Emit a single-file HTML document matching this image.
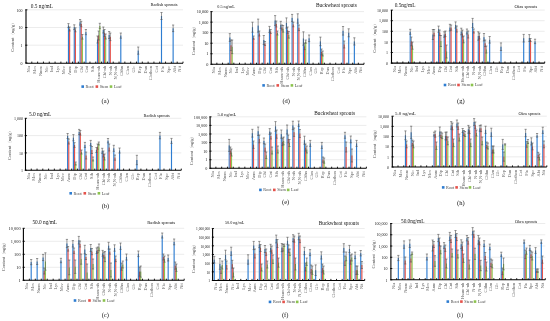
<!DOCTYPE html>
<html><head><meta charset="utf-8"><title>Content of compounds in sprouts</title>
<style>
html,body{margin:0;padding:0;background:#fff;}
body{width:550px;height:321px;overflow:hidden;}
svg{display:block;}
text{font-family:"Liberation Serif","Noto Serif CJK SC",serif;fill:#1a1a1a;}
.g{stroke:#d9d9d9;stroke-width:0.5;}
.e{stroke:#555;stroke-width:0.6;fill:none;}
.ax{stroke:#000;stroke-width:1.1;fill:none;}
.tk{stroke:#000;stroke-width:0.9;fill:none;}
.yt{font-size:4.0px;text-anchor:end;fill:#222;}
.xl{font-size:4.4px;text-anchor:end;fill:#666;}
.yl{font-size:4.5px;text-anchor:middle;fill:#555;}
.cn{fill:#111;}
.sp{fill:#111;}
.lg{font-size:4.2px;fill:#444;}
.lt{font-size:6.5px;text-anchor:middle;fill:#111;}
</style></head>
<body>
<svg width="550" height="321" viewBox="0 0 550 321">
<rect width="550" height="321" fill="#fff"/>
<line x1="26" y1="45.2" x2="183" y2="45.2" class="g"/>
<line x1="26" y1="27.5" x2="183" y2="27.5" class="g"/>
<line x1="26" y1="9.8" x2="183" y2="9.8" class="g"/>
<rect x="67.89" y="25.6" width="1.15" height="37.6" fill="#2E7DD1"/>
<rect x="69.04" y="29" width="1.15" height="34.2" fill="#E5524B"/>
<rect x="73.7" y="27.2" width="1.15" height="36" fill="#2E7DD1"/>
<rect x="74.85" y="29.8" width="1.15" height="33.4" fill="#E5524B"/>
<rect x="79.52" y="22.3" width="1.15" height="40.9" fill="#2E7DD1"/>
<rect x="80.67" y="24" width="1.15" height="39.2" fill="#E5524B"/>
<rect x="81.82" y="36.8" width="1.15" height="26.4" fill="#8CC34E"/>
<rect x="85.33" y="32.1" width="1.15" height="31.1" fill="#2E7DD1"/>
<rect x="96.96" y="39.5" width="1.15" height="23.7" fill="#2E7DD1"/>
<rect x="98.11" y="35.5" width="1.15" height="27.7" fill="#E5524B"/>
<rect x="99.26" y="26" width="1.15" height="37.2" fill="#8CC34E"/>
<rect x="102.77" y="30" width="1.15" height="33.2" fill="#2E7DD1"/>
<rect x="103.92" y="33" width="1.15" height="30.2" fill="#E5524B"/>
<rect x="105.08" y="36.5" width="1.15" height="26.7" fill="#8CC34E"/>
<rect x="108.59" y="35" width="1.15" height="28.2" fill="#2E7DD1"/>
<rect x="109.74" y="36.8" width="1.15" height="26.4" fill="#E5524B"/>
<rect x="120.22" y="35.6" width="1.15" height="27.6" fill="#2E7DD1"/>
<rect x="137.66" y="50.6" width="1.15" height="12.6" fill="#2E7DD1"/>
<rect x="160.92" y="16" width="1.15" height="47.2" fill="#2E7DD1"/>
<rect x="172.55" y="28.3" width="1.15" height="34.9" fill="#2E7DD1"/>
<path d="M68.46 23.6V27.6M67.36 23.6h2.2M67.36 27.6h2.2M69.61 27V31M68.51 27h2.2M68.51 31h2.2M74.28 24.8V29.6M73.18 24.8h2.2M73.18 29.6h2.2M75.43 27.8V31.8M74.33 27.8h2.2M74.33 31.8h2.2M80.09 19.5V25.1M78.99 19.5h2.2M78.99 25.1h2.2M81.24 21.3V26.7M80.14 21.3h2.2M80.14 26.7h2.2M82.39 34.5V39.1M81.29 34.5h2.2M81.29 39.1h2.2M85.91 29.5V34.7M84.81 29.5h2.2M84.81 34.7h2.2M97.54 36V43M96.44 36h2.2M96.44 43h2.2M98.69 31V40M97.59 31h2.2M97.59 40h2.2M99.84 23.3V28.7M98.74 23.3h2.2M98.74 28.7h2.2M103.35 27V33M102.25 27h2.2M102.25 33h2.2M104.5 29.5V36.5M103.4 29.5h2.2M103.4 36.5h2.2M105.65 34V39M104.55 34h2.2M104.55 39h2.2M109.16 31.5V38.5M108.06 31.5h2.2M108.06 38.5h2.2M110.31 33V40.6M109.21 33h2.2M109.21 40.6h2.2M120.79 33V38.2M119.69 33h2.2M119.69 38.2h2.2M138.24 47V54.2M137.14 47h2.2M137.14 54.2h2.2M161.5 12.5V19.5M160.4 12.5h2.2M160.4 19.5h2.2M173.13 25V31.6M172.03 25h2.2M172.03 31.6h2.2" class="e"/>
<path d="M26 9.8V63.2H183" class="ax"/>
<path d="M25.2 62.9h2.2M25.2 45.2h2.2M25.2 27.5h2.2M25.2 9.8h2.2M31.81 63.2v-1.6M37.63 63.2v-1.6M43.44 63.2v-1.6M49.26 63.2v-1.6M55.07 63.2v-1.6M60.89 63.2v-1.6M66.7 63.2v-1.6M72.52 63.2v-1.6M78.33 63.2v-1.6M84.15 63.2v-1.6M89.96 63.2v-1.6M95.78 63.2v-1.6M101.59 63.2v-1.6M107.41 63.2v-1.6M113.22 63.2v-1.6M119.04 63.2v-1.6M124.85 63.2v-1.6M130.67 63.2v-1.6M136.48 63.2v-1.6M142.3 63.2v-1.6M148.11 63.2v-1.6M153.93 63.2v-1.6M159.74 63.2v-1.6M165.56 63.2v-1.6M171.37 63.2v-1.6M177.19 63.2v-1.6M183 63.2v-1.6" class="tk"/>
<text x="22.6" y="64.6" class="yt" style="font-size:4.0px">0</text>
<text x="22.6" y="46.9" class="yt" style="font-size:4.0px">1</text>
<text x="22.6" y="29.2" class="yt" style="font-size:4.0px">10</text>
<text x="22.6" y="11.5" class="yt" style="font-size:4.0px">100</text>
<text transform="translate(30.21 66.1) rotate(-90)" class="xl">Nia</text>
<text transform="translate(36.02 66.1) rotate(-90)" class="xl">Mes</text>
<text transform="translate(41.84 66.1) rotate(-90)" class="xl">Nmm</text>
<text transform="translate(47.65 66.1) rotate(-90)" class="xl">Nic</text>
<text transform="translate(53.47 66.1) rotate(-90)" class="xl">Ind</text>
<text transform="translate(59.28 66.1) rotate(-90)" class="xl">Lys</text>
<text transform="translate(65.1 66.1) rotate(-90)" class="xl">Mev</text>
<text transform="translate(70.91 66.1) rotate(-90)" class="xl">Anm</text>
<text transform="translate(76.73 66.1) rotate(-90)" class="xl">Dip</text>
<text transform="translate(82.54 66.1) rotate(-90)" class="xl">Chl</text>
<text transform="translate(88.36 66.1) rotate(-90)" class="xl">Cnt</text>
<text transform="translate(94.17 66.1) rotate(-90)" class="xl">Sih</text>
<text transform="translate(99.99 66.1) rotate(-90)" class="xl">Hxam-nh</text>
<text transform="translate(105.8 66.1) rotate(-90)" class="xl">Chl-nh</text>
<text transform="translate(111.61 66.1) rotate(-90)" class="xl">N-nh</text>
<text transform="translate(117.43 66.1) rotate(-90)" class="xl">N,N-nh</text>
<text transform="translate(123.24 66.1) rotate(-90)" class="xl">Clthn</text>
<text transform="translate(129.06 66.1) rotate(-90)" class="xl">Clzn</text>
<text transform="translate(134.87 66.1) rotate(-90)" class="xl">Glc</text>
<text transform="translate(140.69 66.1) rotate(-90)" class="xl">Rep</text>
<text transform="translate(146.5 66.1) rotate(-90)" class="xl">Dan</text>
<text transform="translate(152.32 66.1) rotate(-90)" class="xl">Clothon</text>
<text transform="translate(158.13 66.1) rotate(-90)" class="xl">Cot</text>
<text transform="translate(163.95 66.1) rotate(-90)" class="xl">Flu</text>
<text transform="translate(169.76 66.1) rotate(-90)" class="xl">Spe</text>
<text transform="translate(175.58 66.1) rotate(-90)" class="xl">Abt</text>
<text transform="translate(181.39 66.1) rotate(-90)" class="xl">Nit</text>
<text transform="translate(13.5 36.2) rotate(-90)" class="yl">Content（ng/g）</text>
<text x="30.8" y="7.85" class="cn" style="font-size:5.3px">0.5 ng/mL</text>
<text x="150.5" y="6.31" class="sp" style="font-size:4.6px" textLength="27.1" lengthAdjust="spacingAndGlyphs">Radish sprouts</text>
<rect x="81.4" y="85.3" width="2.6" height="2.6" fill="#2E7DD1"/>
<text x="85.6" y="88" class="lg">Root</text>
<rect x="95.55" y="85.3" width="2.6" height="2.6" fill="#E5524B"/>
<text x="99.75" y="88" class="lg">Stem</text>
<rect x="109.7" y="85.3" width="2.6" height="2.6" fill="#8CC34E"/>
<text x="113.9" y="88" class="lg">Leaf</text>
<text x="105.2" y="102.6" class="lt">(a)</text>
<line x1="25.5" y1="152.9" x2="181.3" y2="152.9" class="g"/>
<line x1="25.5" y1="135.6" x2="181.3" y2="135.6" class="g"/>
<line x1="25.5" y1="118.3" x2="181.3" y2="118.3" class="g"/>
<rect x="67.05" y="136" width="1.15" height="34.2" fill="#2E7DD1"/>
<rect x="68.2" y="141.5" width="1.15" height="28.7" fill="#E5524B"/>
<rect x="72.82" y="137.7" width="1.15" height="32.5" fill="#2E7DD1"/>
<rect x="73.97" y="145" width="1.15" height="25.2" fill="#E5524B"/>
<rect x="75.12" y="163.5" width="1.15" height="6.7" fill="#8CC34E"/>
<rect x="78.59" y="132" width="1.15" height="38.2" fill="#2E7DD1"/>
<rect x="79.74" y="132.8" width="1.15" height="37.4" fill="#E5524B"/>
<rect x="80.89" y="152" width="1.15" height="18.2" fill="#8CC34E"/>
<rect x="84.36" y="144.9" width="1.15" height="25.3" fill="#2E7DD1"/>
<rect x="85.51" y="155.5" width="1.15" height="14.7" fill="#E5524B"/>
<rect x="90.13" y="143" width="1.15" height="27.2" fill="#2E7DD1"/>
<rect x="91.28" y="150" width="1.15" height="20.2" fill="#E5524B"/>
<rect x="92.43" y="159" width="1.15" height="11.2" fill="#8CC34E"/>
<rect x="95.9" y="150" width="1.15" height="20.2" fill="#2E7DD1"/>
<rect x="97.05" y="146.6" width="1.15" height="23.6" fill="#E5524B"/>
<rect x="98.2" y="143.5" width="1.15" height="26.7" fill="#8CC34E"/>
<rect x="101.67" y="150.8" width="1.15" height="19.4" fill="#2E7DD1"/>
<rect x="102.83" y="154" width="1.15" height="16.2" fill="#E5524B"/>
<rect x="103.98" y="157" width="1.15" height="13.2" fill="#8CC34E"/>
<rect x="107.45" y="140.7" width="1.15" height="29.5" fill="#2E7DD1"/>
<rect x="108.6" y="147.5" width="1.15" height="22.7" fill="#E5524B"/>
<rect x="113.22" y="148.3" width="1.15" height="21.9" fill="#2E7DD1"/>
<rect x="114.37" y="157.6" width="1.15" height="12.6" fill="#E5524B"/>
<rect x="118.99" y="150.5" width="1.15" height="19.7" fill="#2E7DD1"/>
<rect x="136.3" y="160" width="1.15" height="10.2" fill="#2E7DD1"/>
<rect x="159.38" y="135.6" width="1.15" height="34.6" fill="#2E7DD1"/>
<rect x="170.92" y="140.9" width="1.15" height="29.3" fill="#2E7DD1"/>
<path d="M67.63 133.5V138.5M66.53 133.5h2.2M66.53 138.5h2.2M68.78 139V144M67.68 139h2.2M67.68 144h2.2M73.4 134.6V140.8M72.3 134.6h2.2M72.3 140.8h2.2M74.55 142.6V147.4M73.45 142.6h2.2M73.45 147.4h2.2M75.7 162V165M74.6 162h2.2M74.6 165h2.2M79.17 129.4V134.6M78.07 129.4h2.2M78.07 134.6h2.2M80.32 130.5V135.1M79.22 130.5h2.2M79.22 135.1h2.2M81.47 150V154M80.37 150h2.2M80.37 154h2.2M84.94 142.4V147.4M83.84 142.4h2.2M83.84 147.4h2.2M86.09 152V159M84.99 152h2.2M84.99 159h2.2M90.71 140.4V145.6M89.61 140.4h2.2M89.61 145.6h2.2M91.86 146.5V153.5M90.76 146.5h2.2M90.76 153.5h2.2M93.01 157V161M91.91 157h2.2M91.91 161h2.2M96.48 147.5V152.5M95.38 147.5h2.2M95.38 152.5h2.2M97.63 144V149.2M96.53 144h2.2M96.53 149.2h2.2M98.78 142V145M97.68 142h2.2M97.68 145h2.2M102.25 148.3V153.3M101.15 148.3h2.2M101.15 153.3h2.2M103.4 151V157M102.3 151h2.2M102.3 157h2.2M104.55 154V160M103.45 154h2.2M103.45 160h2.2M108.02 138.5V142.9M106.92 138.5h2.2M106.92 142.9h2.2M109.17 144V151M108.07 144h2.2M108.07 151h2.2M113.79 145.3V151.3M112.69 145.3h2.2M112.69 151.3h2.2M114.94 155V160.2M113.84 155h2.2M113.84 160.2h2.2M119.56 148V153M118.46 148h2.2M118.46 153h2.2M136.87 155.3V164.7M135.77 155.3h2.2M135.77 164.7h2.2M159.95 132.4V138.8M158.85 132.4h2.2M158.85 138.8h2.2M171.49 138.4V143.4M170.39 138.4h2.2M170.39 143.4h2.2" class="e"/>
<path d="M25.5 118.3V170.2H181.3" class="ax"/>
<path d="M24.7 170.2h2.2M24.7 152.9h2.2M24.7 135.6h2.2M24.7 118.3h2.2M31.27 170.2v-1.6M37.04 170.2v-1.6M42.81 170.2v-1.6M48.58 170.2v-1.6M54.35 170.2v-1.6M60.12 170.2v-1.6M65.89 170.2v-1.6M71.66 170.2v-1.6M77.43 170.2v-1.6M83.2 170.2v-1.6M88.97 170.2v-1.6M94.74 170.2v-1.6M100.51 170.2v-1.6M106.29 170.2v-1.6M112.06 170.2v-1.6M117.83 170.2v-1.6M123.6 170.2v-1.6M129.37 170.2v-1.6M135.14 170.2v-1.6M140.91 170.2v-1.6M146.68 170.2v-1.6M152.45 170.2v-1.6M158.22 170.2v-1.6M163.99 170.2v-1.6M169.76 170.2v-1.6M175.53 170.2v-1.6M181.3 170.2v-1.6" class="tk"/>
<text x="23" y="171.9" class="yt" style="font-size:4.0px">1</text>
<text x="23" y="154.6" class="yt" style="font-size:4.0px">10</text>
<text x="23" y="137.3" class="yt" style="font-size:4.0px">100</text>
<text x="23" y="120" class="yt" style="font-size:4.0px">1,000</text>
<text transform="translate(29.69 173.1) rotate(-90)" class="xl">Nia</text>
<text transform="translate(35.46 173.1) rotate(-90)" class="xl">Mes</text>
<text transform="translate(41.23 173.1) rotate(-90)" class="xl">Nmm</text>
<text transform="translate(47 173.1) rotate(-90)" class="xl">Nic</text>
<text transform="translate(52.77 173.1) rotate(-90)" class="xl">Ind</text>
<text transform="translate(58.54 173.1) rotate(-90)" class="xl">Lys</text>
<text transform="translate(64.31 173.1) rotate(-90)" class="xl">Mev</text>
<text transform="translate(70.08 173.1) rotate(-90)" class="xl">Anm</text>
<text transform="translate(75.85 173.1) rotate(-90)" class="xl">Dip</text>
<text transform="translate(81.62 173.1) rotate(-90)" class="xl">Chl</text>
<text transform="translate(87.39 173.1) rotate(-90)" class="xl">Cnt</text>
<text transform="translate(93.16 173.1) rotate(-90)" class="xl">Sih</text>
<text transform="translate(98.93 173.1) rotate(-90)" class="xl">Hxam-nh</text>
<text transform="translate(104.7 173.1) rotate(-90)" class="xl">Chl-nh</text>
<text transform="translate(110.47 173.1) rotate(-90)" class="xl">N-nh</text>
<text transform="translate(116.24 173.1) rotate(-90)" class="xl">N,N-nh</text>
<text transform="translate(122.01 173.1) rotate(-90)" class="xl">Clthn</text>
<text transform="translate(127.78 173.1) rotate(-90)" class="xl">Clzn</text>
<text transform="translate(133.55 173.1) rotate(-90)" class="xl">Glc</text>
<text transform="translate(139.32 173.1) rotate(-90)" class="xl">Rep</text>
<text transform="translate(145.09 173.1) rotate(-90)" class="xl">Dan</text>
<text transform="translate(150.86 173.1) rotate(-90)" class="xl">Clothon</text>
<text transform="translate(156.63 173.1) rotate(-90)" class="xl">Cot</text>
<text transform="translate(162.4 173.1) rotate(-90)" class="xl">Flu</text>
<text transform="translate(168.17 173.1) rotate(-90)" class="xl">Spe</text>
<text transform="translate(173.94 173.1) rotate(-90)" class="xl">Abt</text>
<text transform="translate(179.71 173.1) rotate(-90)" class="xl">Nit</text>
<text transform="translate(10.5 144.3) rotate(-90)" class="yl">Content（ng/g）</text>
<text x="28.9" y="115.69" class="cn" style="font-size:5.4px">5.0 ng/mL</text>
<text x="143.6" y="117.11" class="sp" style="font-size:4.6px" textLength="26.1" lengthAdjust="spacingAndGlyphs">Radish sprouts</text>
<rect x="69.4" y="192" width="2.6" height="2.6" fill="#2E7DD1"/>
<text x="73.6" y="194.7" class="lg">Root</text>
<rect x="83.5" y="192" width="2.6" height="2.6" fill="#E5524B"/>
<text x="87.7" y="194.7" class="lg">Stem</text>
<rect x="97.6" y="192" width="2.6" height="2.6" fill="#8CC34E"/>
<text x="101.8" y="194.7" class="lg">Leaf</text>
<text x="105.5" y="207.6" class="lt">(b)</text>
<line x1="23.4" y1="267.3" x2="184.2" y2="267.3" class="g"/>
<line x1="23.4" y1="254.3" x2="184.2" y2="254.3" class="g"/>
<line x1="23.4" y1="241.3" x2="184.2" y2="241.3" class="g"/>
<line x1="23.4" y1="228.3" x2="184.2" y2="228.3" class="g"/>
<rect x="30.61" y="262.1" width="1.15" height="18.2" fill="#2E7DD1"/>
<rect x="36.56" y="261.5" width="1.15" height="18.8" fill="#2E7DD1"/>
<rect x="42.52" y="257.5" width="1.15" height="22.8" fill="#2E7DD1"/>
<rect x="43.67" y="271" width="1.15" height="9.3" fill="#E5524B"/>
<rect x="44.82" y="261.5" width="1.15" height="18.8" fill="#8CC34E"/>
<rect x="60.39" y="260.5" width="1.15" height="19.8" fill="#2E7DD1"/>
<rect x="66.34" y="243.5" width="1.15" height="36.8" fill="#2E7DD1"/>
<rect x="67.49" y="248.8" width="1.15" height="31.5" fill="#E5524B"/>
<rect x="68.64" y="267.4" width="1.15" height="12.9" fill="#8CC34E"/>
<rect x="72.3" y="243.8" width="1.15" height="36.5" fill="#2E7DD1"/>
<rect x="73.45" y="250.7" width="1.15" height="29.6" fill="#E5524B"/>
<rect x="74.6" y="266.7" width="1.15" height="13.6" fill="#8CC34E"/>
<rect x="78.25" y="240.2" width="1.15" height="40.1" fill="#2E7DD1"/>
<rect x="79.4" y="244" width="1.15" height="36.3" fill="#E5524B"/>
<rect x="80.55" y="259.1" width="1.15" height="21.2" fill="#8CC34E"/>
<rect x="84.21" y="249.5" width="1.15" height="30.8" fill="#2E7DD1"/>
<rect x="85.36" y="257" width="1.15" height="23.3" fill="#E5524B"/>
<rect x="86.51" y="272.5" width="1.15" height="7.8" fill="#8CC34E"/>
<rect x="90.16" y="248" width="1.15" height="32.3" fill="#2E7DD1"/>
<rect x="91.31" y="251.6" width="1.15" height="28.7" fill="#E5524B"/>
<rect x="92.46" y="264" width="1.15" height="16.3" fill="#8CC34E"/>
<rect x="96.12" y="250.7" width="1.15" height="29.6" fill="#2E7DD1"/>
<rect x="97.27" y="249.9" width="1.15" height="30.4" fill="#E5524B"/>
<rect x="98.42" y="247.4" width="1.15" height="32.9" fill="#8CC34E"/>
<rect x="102.07" y="253.3" width="1.15" height="27" fill="#2E7DD1"/>
<rect x="103.22" y="255" width="1.15" height="25.3" fill="#E5524B"/>
<rect x="104.37" y="256.6" width="1.15" height="23.7" fill="#8CC34E"/>
<rect x="108.03" y="245.7" width="1.15" height="34.6" fill="#2E7DD1"/>
<rect x="109.18" y="251.6" width="1.15" height="28.7" fill="#E5524B"/>
<rect x="110.33" y="270" width="1.15" height="10.3" fill="#8CC34E"/>
<rect x="113.99" y="248" width="1.15" height="32.3" fill="#2E7DD1"/>
<rect x="115.14" y="258.8" width="1.15" height="21.5" fill="#E5524B"/>
<rect x="119.94" y="246.2" width="1.15" height="34.1" fill="#2E7DD1"/>
<rect x="121.09" y="266.6" width="1.15" height="13.7" fill="#E5524B"/>
<rect x="122.24" y="264.5" width="1.15" height="15.8" fill="#8CC34E"/>
<rect x="125.9" y="257" width="1.15" height="23.3" fill="#2E7DD1"/>
<rect x="137.81" y="253.8" width="1.15" height="26.5" fill="#2E7DD1"/>
<rect x="138.96" y="271.6" width="1.15" height="8.7" fill="#E5524B"/>
<rect x="140.11" y="271.6" width="1.15" height="8.7" fill="#8CC34E"/>
<rect x="161.63" y="235.5" width="1.15" height="44.8" fill="#2E7DD1"/>
<rect x="162.78" y="257" width="1.15" height="23.3" fill="#E5524B"/>
<rect x="163.93" y="259.1" width="1.15" height="21.2" fill="#8CC34E"/>
<rect x="167.59" y="258" width="1.15" height="22.3" fill="#2E7DD1"/>
<rect x="173.54" y="241.9" width="1.15" height="38.4" fill="#2E7DD1"/>
<rect x="174.69" y="265.6" width="1.15" height="14.7" fill="#E5524B"/>
<rect x="175.84" y="267.7" width="1.15" height="12.6" fill="#8CC34E"/>
<path d="M31.18 259.5V264.7M30.08 259.5h2.2M30.08 264.7h2.2M37.14 258.5V264.5M36.04 258.5h2.2M36.04 264.5h2.2M43.09 254.4V260.6M41.99 254.4h2.2M41.99 260.6h2.2M44.24 268V274M43.14 268h2.2M43.14 274h2.2M45.39 252.8V270.2M44.29 252.8h2.2M44.29 270.2h2.2M60.96 258.3V262.7M59.86 258.3h2.2M59.86 262.7h2.2M66.92 239.4V247.6M65.82 239.4h2.2M65.82 247.6h2.2M68.07 246.5V251.1M66.97 246.5h2.2M66.97 251.1h2.2M69.22 260V274.8M68.12 260h2.2M68.12 274.8h2.2M72.87 240.6V247M71.77 240.6h2.2M71.77 247h2.2M74.02 248V253.4M72.92 248h2.2M72.92 253.4h2.2M75.17 260V273.4M74.07 260h2.2M74.07 273.4h2.2M78.83 236.4V244M77.73 236.4h2.2M77.73 244h2.2M79.98 241V247M78.88 241h2.2M78.88 247h2.2M81.13 254V264.2M80.03 254h2.2M80.03 264.2h2.2M84.78 245.3V253.7M83.68 245.3h2.2M83.68 253.7h2.2M85.93 254.5V259.5M84.83 254.5h2.2M84.83 259.5h2.2M87.08 264V280.3M85.98 264h2.2M85.98 280.3h2.2M90.74 244.5V251.5M89.64 244.5h2.2M89.64 251.5h2.2M91.89 248.5V254.7M90.79 248.5h2.2M90.79 254.7h2.2M93.04 259V269M91.94 259h2.2M91.94 269h2.2M96.69 247.9V253.5M95.59 247.9h2.2M95.59 253.5h2.2M97.84 247V252.8M96.74 247h2.2M96.74 252.8h2.2M98.99 244V250.8M97.89 244h2.2M97.89 250.8h2.2M102.65 250.4V256.2M101.55 250.4h2.2M101.55 256.2h2.2M103.8 252V258M102.7 252h2.2M102.7 258h2.2M104.95 251.6V261.6M103.85 251.6h2.2M103.85 261.6h2.2M108.61 242.3V249.1M107.51 242.3h2.2M107.51 249.1h2.2M109.76 249V254.2M108.66 249h2.2M108.66 254.2h2.2M110.91 263V277M109.81 263h2.2M109.81 277h2.2M114.56 244.8V251.2M113.46 244.8h2.2M113.46 251.2h2.2M115.71 256V261.6M114.61 256h2.2M114.61 261.6h2.2M120.52 243V249.4M119.42 243h2.2M119.42 249.4h2.2M121.67 263V270.2M120.57 263h2.2M120.57 270.2h2.2M122.82 261V268M121.72 261h2.2M121.72 268h2.2M126.47 254V260M125.37 254h2.2M125.37 260h2.2M138.38 251V256.6M137.28 251h2.2M137.28 256.6h2.2M139.53 267V276.2M138.43 267h2.2M138.43 276.2h2.2M140.68 266V277.2M139.58 266h2.2M139.58 277.2h2.2M162.21 233V238M161.11 233h2.2M161.11 238h2.2M163.36 254V260M162.26 254h2.2M162.26 260h2.2M164.51 256V262.2M163.41 256h2.2M163.41 262.2h2.2M168.16 255V261M167.06 255h2.2M167.06 261h2.2M174.12 239V244.8M173.02 239h2.2M173.02 244.8h2.2M175.27 262V269.2M174.17 262h2.2M174.17 269.2h2.2M176.42 264V271.4M175.32 264h2.2M175.32 271.4h2.2" class="e"/>
<path d="M23.4 228.3V280.3H184.2" class="ax"/>
<path d="M22.6 280.3h2.2M22.6 267.3h2.2M22.6 254.3h2.2M22.6 241.3h2.2M22.6 228.3h2.2M29.36 280.3v-1.6M35.31 280.3v-1.6M41.27 280.3v-1.6M47.22 280.3v-1.6M53.18 280.3v-1.6M59.13 280.3v-1.6M65.09 280.3v-1.6M71.04 280.3v-1.6M77 280.3v-1.6M82.96 280.3v-1.6M88.91 280.3v-1.6M94.87 280.3v-1.6M100.82 280.3v-1.6M106.78 280.3v-1.6M112.73 280.3v-1.6M118.69 280.3v-1.6M124.64 280.3v-1.6M130.6 280.3v-1.6M136.56 280.3v-1.6M142.51 280.3v-1.6M148.47 280.3v-1.6M154.42 280.3v-1.6M160.38 280.3v-1.6M166.33 280.3v-1.6M172.29 280.3v-1.6M178.24 280.3v-1.6M184.2 280.3v-1.6" class="tk"/>
<text x="20.6" y="282" class="yt" style="font-size:4.4px">1</text>
<text x="20.6" y="269" class="yt" style="font-size:4.4px">10</text>
<text x="20.6" y="256" class="yt" style="font-size:4.4px">100</text>
<text x="20.6" y="243" class="yt" style="font-size:4.4px">1,000</text>
<text x="20.6" y="230" class="yt" style="font-size:4.4px">10,000</text>
<text transform="translate(27.68 283.2) rotate(-90)" class="xl">Nia</text>
<text transform="translate(33.63 283.2) rotate(-90)" class="xl">Mes</text>
<text transform="translate(39.59 283.2) rotate(-90)" class="xl">Nmm</text>
<text transform="translate(45.54 283.2) rotate(-90)" class="xl">Nic</text>
<text transform="translate(51.5 283.2) rotate(-90)" class="xl">Ind</text>
<text transform="translate(57.46 283.2) rotate(-90)" class="xl">Lys</text>
<text transform="translate(63.41 283.2) rotate(-90)" class="xl">Mev</text>
<text transform="translate(69.37 283.2) rotate(-90)" class="xl">Anm</text>
<text transform="translate(75.32 283.2) rotate(-90)" class="xl">Dip</text>
<text transform="translate(81.28 283.2) rotate(-90)" class="xl">Chl</text>
<text transform="translate(87.23 283.2) rotate(-90)" class="xl">Cnt</text>
<text transform="translate(93.19 283.2) rotate(-90)" class="xl">Sih</text>
<text transform="translate(99.14 283.2) rotate(-90)" class="xl">Hxam-nh</text>
<text transform="translate(105.1 283.2) rotate(-90)" class="xl">Chl-nh</text>
<text transform="translate(111.06 283.2) rotate(-90)" class="xl">N-nh</text>
<text transform="translate(117.01 283.2) rotate(-90)" class="xl">N,N-nh</text>
<text transform="translate(122.97 283.2) rotate(-90)" class="xl">Clthn</text>
<text transform="translate(128.92 283.2) rotate(-90)" class="xl">Clzn</text>
<text transform="translate(134.88 283.2) rotate(-90)" class="xl">Glc</text>
<text transform="translate(140.83 283.2) rotate(-90)" class="xl">Rep</text>
<text transform="translate(146.79 283.2) rotate(-90)" class="xl">Dan</text>
<text transform="translate(152.74 283.2) rotate(-90)" class="xl">Clothon</text>
<text transform="translate(158.7 283.2) rotate(-90)" class="xl">Cot</text>
<text transform="translate(164.66 283.2) rotate(-90)" class="xl">Flu</text>
<text transform="translate(170.61 283.2) rotate(-90)" class="xl">Spe</text>
<text transform="translate(176.57 283.2) rotate(-90)" class="xl">Abt</text>
<text transform="translate(182.52 283.2) rotate(-90)" class="xl">Nit</text>
<text transform="translate(4.5 255.5) rotate(-90)" class="yl">Content（ng/g）</text>
<text x="32.4" y="223.85" class="cn" style="font-size:5.3px">50.0 ng/mL</text>
<text x="147.2" y="224.21" class="sp" style="font-size:4.6px" textLength="28" lengthAdjust="spacingAndGlyphs">Radish sprouts</text>
<rect x="73.7" y="299.2" width="2.6" height="2.6" fill="#2E7DD1"/>
<text x="77.9" y="301.9" class="lg">Root</text>
<rect x="88.2" y="299.2" width="2.6" height="2.6" fill="#E5524B"/>
<text x="92.4" y="301.9" class="lg">Stem</text>
<rect x="102.7" y="299.2" width="2.6" height="2.6" fill="#8CC34E"/>
<text x="106.9" y="301.9" class="lg">Leaf</text>
<text x="105.3" y="316.8" class="lt">(c)</text>
<line x1="211.2" y1="53.76" x2="364" y2="53.76" class="g"/>
<line x1="211.2" y1="43.22" x2="364" y2="43.22" class="g"/>
<line x1="211.2" y1="32.68" x2="364" y2="32.68" class="g"/>
<line x1="211.2" y1="22.14" x2="364" y2="22.14" class="g"/>
<line x1="211.2" y1="11.6" x2="364" y2="11.6" class="g"/>
<rect x="229.28" y="37.5" width="1.15" height="26.8" fill="#2E7DD1"/>
<rect x="230.43" y="45.3" width="1.15" height="19" fill="#E5524B"/>
<rect x="231.58" y="46.8" width="1.15" height="17.5" fill="#8CC34E"/>
<rect x="251.92" y="27.2" width="1.15" height="37.1" fill="#2E7DD1"/>
<rect x="253.07" y="37.6" width="1.15" height="26.7" fill="#E5524B"/>
<rect x="257.58" y="25.6" width="1.15" height="38.7" fill="#2E7DD1"/>
<rect x="258.73" y="33.5" width="1.15" height="30.8" fill="#E5524B"/>
<rect x="263.24" y="40" width="1.15" height="24.3" fill="#2E7DD1"/>
<rect x="264.39" y="43.5" width="1.15" height="20.8" fill="#E5524B"/>
<rect x="268.9" y="29.4" width="1.15" height="34.9" fill="#2E7DD1"/>
<rect x="270.05" y="31.5" width="1.15" height="32.8" fill="#E5524B"/>
<rect x="274.56" y="20.5" width="1.15" height="43.8" fill="#2E7DD1"/>
<rect x="275.71" y="24" width="1.15" height="40.3" fill="#E5524B"/>
<rect x="276.86" y="33" width="1.15" height="31.3" fill="#8CC34E"/>
<rect x="280.22" y="24.8" width="1.15" height="39.5" fill="#2E7DD1"/>
<rect x="281.37" y="27.5" width="1.15" height="36.8" fill="#E5524B"/>
<rect x="282.52" y="28.8" width="1.15" height="35.5" fill="#8CC34E"/>
<rect x="285.88" y="23" width="1.15" height="41.3" fill="#2E7DD1"/>
<rect x="287.03" y="30.2" width="1.15" height="34.1" fill="#E5524B"/>
<rect x="288.18" y="34.8" width="1.15" height="29.5" fill="#8CC34E"/>
<rect x="291.53" y="17.9" width="1.15" height="46.4" fill="#2E7DD1"/>
<rect x="292.68" y="24.5" width="1.15" height="39.8" fill="#E5524B"/>
<rect x="297.19" y="18.5" width="1.15" height="45.8" fill="#2E7DD1"/>
<rect x="298.34" y="27.8" width="1.15" height="36.5" fill="#E5524B"/>
<rect x="302.85" y="38.5" width="1.15" height="25.8" fill="#2E7DD1"/>
<rect x="304" y="46.3" width="1.15" height="18" fill="#E5524B"/>
<rect x="305.15" y="41.6" width="1.15" height="22.7" fill="#8CC34E"/>
<rect x="308.51" y="38.3" width="1.15" height="26" fill="#2E7DD1"/>
<rect x="319.83" y="41.4" width="1.15" height="22.9" fill="#2E7DD1"/>
<rect x="320.98" y="52" width="1.15" height="12.3" fill="#E5524B"/>
<rect x="322.13" y="53.5" width="1.15" height="10.8" fill="#8CC34E"/>
<rect x="342.47" y="30.8" width="1.15" height="33.5" fill="#2E7DD1"/>
<rect x="343.62" y="44.5" width="1.15" height="19.8" fill="#E5524B"/>
<rect x="348.13" y="32.8" width="1.15" height="31.5" fill="#2E7DD1"/>
<rect x="353.79" y="41.4" width="1.15" height="22.9" fill="#2E7DD1"/>
<path d="M229.86 33.6V41.4M228.76 33.6h2.2M228.76 41.4h2.2M231.01 40V50.6M229.91 40h2.2M229.91 50.6h2.2M232.16 40V53.6M231.06 40h2.2M231.06 53.6h2.2M252.49 22.2V32.2M251.39 22.2h2.2M251.39 32.2h2.2M253.64 36V39.2M252.54 36h2.2M252.54 39.2h2.2M258.15 19.1V32.1M257.05 19.1h2.2M257.05 32.1h2.2M259.3 31V36M258.2 31h2.2M258.2 36h2.2M263.81 35.5V44.5M262.71 35.5h2.2M262.71 44.5h2.2M264.96 41.5V45.5M263.86 41.5h2.2M263.86 45.5h2.2M269.47 26.4V32.4M268.37 26.4h2.2M268.37 32.4h2.2M270.62 29.5V33.5M269.52 29.5h2.2M269.52 33.5h2.2M275.13 15.6V25.4M274.03 15.6h2.2M274.03 25.4h2.2M276.28 21V27M275.18 21h2.2M275.18 27h2.2M277.43 31V35M276.33 31h2.2M276.33 35h2.2M280.79 21.3V28.3M279.69 21.3h2.2M279.69 28.3h2.2M281.94 25V30M280.84 25h2.2M280.84 30h2.2M283.09 25.5V32.1M281.99 25.5h2.2M281.99 32.1h2.2M286.45 17.9V28.1M285.35 17.9h2.2M285.35 28.1h2.2M287.6 27V33.4M286.5 27h2.2M286.5 33.4h2.2M288.75 31.5V38.1M287.65 31.5h2.2M287.65 38.1h2.2M292.11 14.4V21.4M291.01 14.4h2.2M291.01 21.4h2.2M293.26 22.2V26.8M292.16 22.2h2.2M292.16 26.8h2.2M297.77 13.8V23.2M296.67 13.8h2.2M296.67 23.2h2.2M298.92 25V30.6M297.82 25h2.2M297.82 30.6h2.2M303.43 31.8V45.2M302.33 31.8h2.2M302.33 45.2h2.2M304.58 43V49.6M303.48 43h2.2M303.48 49.6h2.2M305.73 40V43.2M304.63 40h2.2M304.63 43.2h2.2M309.09 35V41.6M307.99 35h2.2M307.99 41.6h2.2M320.41 37.1V45.7M319.31 37.1h2.2M319.31 45.7h2.2M321.56 49V55M320.46 49h2.2M320.46 55h2.2M322.71 51V56M321.61 51h2.2M321.61 56h2.2M343.04 26.5V35.1M341.94 26.5h2.2M341.94 35.1h2.2M344.19 41V48M343.09 41h2.2M343.09 48h2.2M348.7 28.8V36.8M347.6 28.8h2.2M347.6 36.8h2.2M354.36 37.8V45M353.26 37.8h2.2M353.26 45h2.2" class="e"/>
<path d="M211.2 11.6V64.3H364" class="ax"/>
<path d="M210.4 64.3h2.2M210.4 53.76h2.2M210.4 43.22h2.2M210.4 32.68h2.2M210.4 22.14h2.2M210.4 11.6h2.2M216.86 64.3v-1.6M222.52 64.3v-1.6M228.18 64.3v-1.6M233.84 64.3v-1.6M239.5 64.3v-1.6M245.16 64.3v-1.6M250.81 64.3v-1.6M256.47 64.3v-1.6M262.13 64.3v-1.6M267.79 64.3v-1.6M273.45 64.3v-1.6M279.11 64.3v-1.6M284.77 64.3v-1.6M290.43 64.3v-1.6M296.09 64.3v-1.6M301.75 64.3v-1.6M307.41 64.3v-1.6M313.07 64.3v-1.6M318.73 64.3v-1.6M324.39 64.3v-1.6M330.04 64.3v-1.6M335.7 64.3v-1.6M341.36 64.3v-1.6M347.02 64.3v-1.6M352.68 64.3v-1.6M358.34 64.3v-1.6M364 64.3v-1.6" class="tk"/>
<text x="208.5" y="66" class="yt" style="font-size:4.3px">0</text>
<text x="208.5" y="55.46" class="yt" style="font-size:4.3px">1</text>
<text x="208.5" y="44.92" class="yt" style="font-size:4.3px">10</text>
<text x="208.5" y="34.38" class="yt" style="font-size:4.3px">100</text>
<text x="208.5" y="23.84" class="yt" style="font-size:4.3px">1,000</text>
<text x="208.5" y="13.3" class="yt" style="font-size:4.3px">10,000</text>
<text transform="translate(215.33 67.2) rotate(-90)" class="xl">Nia</text>
<text transform="translate(220.99 67.2) rotate(-90)" class="xl">Mes</text>
<text transform="translate(226.65 67.2) rotate(-90)" class="xl">Nmm</text>
<text transform="translate(232.31 67.2) rotate(-90)" class="xl">Nic</text>
<text transform="translate(237.97 67.2) rotate(-90)" class="xl">Ind</text>
<text transform="translate(243.63 67.2) rotate(-90)" class="xl">Lys</text>
<text transform="translate(249.29 67.2) rotate(-90)" class="xl">Mev</text>
<text transform="translate(254.94 67.2) rotate(-90)" class="xl">Anm</text>
<text transform="translate(260.6 67.2) rotate(-90)" class="xl">Dip</text>
<text transform="translate(266.26 67.2) rotate(-90)" class="xl">Chl</text>
<text transform="translate(271.92 67.2) rotate(-90)" class="xl">Cnt</text>
<text transform="translate(277.58 67.2) rotate(-90)" class="xl">Sih</text>
<text transform="translate(283.24 67.2) rotate(-90)" class="xl">Hxam-nh</text>
<text transform="translate(288.9 67.2) rotate(-90)" class="xl">Chl-nh</text>
<text transform="translate(294.56 67.2) rotate(-90)" class="xl">N-nh</text>
<text transform="translate(300.22 67.2) rotate(-90)" class="xl">N,N-nh</text>
<text transform="translate(305.88 67.2) rotate(-90)" class="xl">Clthn</text>
<text transform="translate(311.54 67.2) rotate(-90)" class="xl">Clzn</text>
<text transform="translate(317.2 67.2) rotate(-90)" class="xl">Glc</text>
<text transform="translate(322.86 67.2) rotate(-90)" class="xl">Rep</text>
<text transform="translate(328.51 67.2) rotate(-90)" class="xl">Dan</text>
<text transform="translate(334.17 67.2) rotate(-90)" class="xl">Clothon</text>
<text transform="translate(339.83 67.2) rotate(-90)" class="xl">Cot</text>
<text transform="translate(345.49 67.2) rotate(-90)" class="xl">Flu</text>
<text transform="translate(351.15 67.2) rotate(-90)" class="xl">Spe</text>
<text transform="translate(356.81 67.2) rotate(-90)" class="xl">Abt</text>
<text transform="translate(362.47 67.2) rotate(-90)" class="xl">Nit</text>
<text transform="translate(195 39.6) rotate(-90)" class="yl">Content（ng/g）</text>
<text x="217.3" y="7.97" class="cn" style="font-size:4.2px">0.5 ng/mL</text>
<text x="315.9" y="6.59" class="sp" style="font-size:5.4px" textLength="41" lengthAdjust="spacingAndGlyphs">Buckwheat sprouts</text>
<rect x="262.3" y="84.1" width="2.6" height="2.6" fill="#2E7DD1"/>
<text x="266.5" y="86.8" class="lg">Root</text>
<rect x="276.45" y="84.1" width="2.6" height="2.6" fill="#E5524B"/>
<text x="280.65" y="86.8" class="lg">Stem</text>
<rect x="290.6" y="84.1" width="2.6" height="2.6" fill="#8CC34E"/>
<text x="294.8" y="86.8" class="lg">Leaf</text>
<text x="286.2" y="102.8" class="lt">(d)</text>
<line x1="210.1" y1="159.72" x2="366.4" y2="159.72" class="g"/>
<line x1="210.1" y1="151.14" x2="366.4" y2="151.14" class="g"/>
<line x1="210.1" y1="142.56" x2="366.4" y2="142.56" class="g"/>
<line x1="210.1" y1="133.98" x2="366.4" y2="133.98" class="g"/>
<line x1="210.1" y1="125.4" x2="366.4" y2="125.4" class="g"/>
<line x1="210.1" y1="116.82" x2="366.4" y2="116.82" class="g"/>
<rect x="228.64" y="145.4" width="1.15" height="22.9" fill="#2E7DD1"/>
<rect x="229.79" y="150.5" width="1.15" height="17.8" fill="#E5524B"/>
<rect x="230.94" y="152.5" width="1.15" height="15.8" fill="#8CC34E"/>
<rect x="251.79" y="133.2" width="1.15" height="35.1" fill="#2E7DD1"/>
<rect x="252.94" y="144.7" width="1.15" height="23.6" fill="#E5524B"/>
<rect x="257.58" y="131.2" width="1.15" height="37.1" fill="#2E7DD1"/>
<rect x="258.73" y="138.9" width="1.15" height="29.4" fill="#E5524B"/>
<rect x="263.37" y="140.9" width="1.15" height="27.4" fill="#2E7DD1"/>
<rect x="264.52" y="147.6" width="1.15" height="20.7" fill="#E5524B"/>
<rect x="265.67" y="155.3" width="1.15" height="13" fill="#8CC34E"/>
<rect x="269.16" y="131.5" width="1.15" height="36.8" fill="#2E7DD1"/>
<rect x="270.31" y="136" width="1.15" height="32.3" fill="#E5524B"/>
<rect x="271.46" y="150.5" width="1.15" height="17.8" fill="#8CC34E"/>
<rect x="274.95" y="126.4" width="1.15" height="41.9" fill="#2E7DD1"/>
<rect x="276.1" y="134.1" width="1.15" height="34.2" fill="#E5524B"/>
<rect x="277.25" y="149.5" width="1.15" height="18.8" fill="#8CC34E"/>
<rect x="280.74" y="134.1" width="1.15" height="34.2" fill="#2E7DD1"/>
<rect x="281.89" y="141.8" width="1.15" height="26.5" fill="#E5524B"/>
<rect x="283.04" y="140.9" width="1.15" height="27.4" fill="#8CC34E"/>
<rect x="286.53" y="129.5" width="1.15" height="38.8" fill="#2E7DD1"/>
<rect x="287.68" y="138.9" width="1.15" height="29.4" fill="#E5524B"/>
<rect x="288.82" y="143" width="1.15" height="25.3" fill="#8CC34E"/>
<rect x="292.31" y="125.4" width="1.15" height="42.9" fill="#2E7DD1"/>
<rect x="293.46" y="132.2" width="1.15" height="36.1" fill="#E5524B"/>
<rect x="298.1" y="123.7" width="1.15" height="44.6" fill="#2E7DD1"/>
<rect x="299.25" y="133.5" width="1.15" height="34.8" fill="#E5524B"/>
<rect x="303.89" y="140.2" width="1.15" height="28.1" fill="#2E7DD1"/>
<rect x="305.04" y="147.6" width="1.15" height="20.7" fill="#E5524B"/>
<rect x="306.19" y="149.5" width="1.15" height="18.8" fill="#8CC34E"/>
<rect x="309.68" y="143.4" width="1.15" height="24.9" fill="#2E7DD1"/>
<rect x="321.26" y="145.4" width="1.15" height="22.9" fill="#2E7DD1"/>
<rect x="322.41" y="159.6" width="1.15" height="8.7" fill="#E5524B"/>
<rect x="323.56" y="160.6" width="1.15" height="7.7" fill="#8CC34E"/>
<rect x="344.41" y="135.3" width="1.15" height="33" fill="#2E7DD1"/>
<rect x="345.56" y="147" width="1.15" height="21.3" fill="#E5524B"/>
<rect x="350.2" y="139.4" width="1.15" height="28.9" fill="#2E7DD1"/>
<rect x="351.35" y="155.5" width="1.15" height="12.8" fill="#E5524B"/>
<rect x="355.99" y="143.4" width="1.15" height="24.9" fill="#2E7DD1"/>
<path d="M229.21 139.4V151.4M228.11 139.4h2.2M228.11 151.4h2.2M230.36 147V154M229.26 147h2.2M229.26 154h2.2M231.51 149V156M230.41 149h2.2M230.41 156h2.2M252.37 129.3V137.1M251.27 129.3h2.2M251.27 137.1h2.2M253.52 141V148.4M252.42 141h2.2M252.42 148.4h2.2M258.16 127V135.4M257.06 127h2.2M257.06 135.4h2.2M259.31 135V142.8M258.21 135h2.2M258.21 142.8h2.2M263.94 138V143.8M262.84 138h2.2M262.84 143.8h2.2M265.09 144V151.2M263.99 144h2.2M263.99 151.2h2.2M266.24 152V158.6M265.14 152h2.2M265.14 158.6h2.2M269.73 128.6V134.4M268.63 128.6h2.2M268.63 134.4h2.2M270.88 133V139M269.78 133h2.2M269.78 139h2.2M272.03 147V154M270.93 147h2.2M270.93 154h2.2M275.52 121.6V131.2M274.42 121.6h2.2M274.42 131.2h2.2M276.67 130V138.2M275.57 130h2.2M275.57 138.2h2.2M277.82 146V153M276.72 146h2.2M276.72 153h2.2M281.31 130V138.2M280.21 130h2.2M280.21 138.2h2.2M282.46 138V145.6M281.36 138h2.2M281.36 145.6h2.2M283.61 137V144.8M282.51 137h2.2M282.51 144.8h2.2M287.1 125V134M286 125h2.2M286 134h2.2M288.25 135V142.8M287.15 135h2.2M287.15 142.8h2.2M289.4 139.5V146.5M288.3 139.5h2.2M288.3 146.5h2.2M292.89 121.2V129.6M291.79 121.2h2.2M291.79 129.6h2.2M294.04 128V136.4M292.94 128h2.2M292.94 136.4h2.2M298.68 121V126.4M297.58 121h2.2M297.58 126.4h2.2M299.83 129.5V137.5M298.73 129.5h2.2M298.73 137.5h2.2M304.47 136.2V144.2M303.37 136.2h2.2M303.37 144.2h2.2M305.62 144V151.2M304.52 144h2.2M304.52 151.2h2.2M306.77 146V153M305.67 146h2.2M305.67 153h2.2M310.26 140.4V146.4M309.16 140.4h2.2M309.16 146.4h2.2M321.83 142.4V148.4M320.73 142.4h2.2M320.73 148.4h2.2M322.98 157V162.2M321.88 157h2.2M321.88 162.2h2.2M324.13 158V163.2M323.03 158h2.2M323.03 163.2h2.2M344.99 132.3V138.3M343.89 132.3h2.2M343.89 138.3h2.2M346.14 142V152M345.04 142h2.2M345.04 152h2.2M350.78 136V142.8M349.68 136h2.2M349.68 142.8h2.2M351.93 149V162M350.83 149h2.2M350.83 162h2.2M356.57 140.4V146.4M355.47 140.4h2.2M355.47 146.4h2.2" class="e"/>
<path d="M210.1 116.82V168.3H366.4" class="ax"/>
<path d="M209.3 168.3h2.2M209.3 159.72h2.2M209.3 151.14h2.2M209.3 142.56h2.2M209.3 133.98h2.2M209.3 125.4h2.2M209.3 116.82h2.2M215.89 168.3v-1.6M221.68 168.3v-1.6M227.47 168.3v-1.6M233.26 168.3v-1.6M239.04 168.3v-1.6M244.83 168.3v-1.6M250.62 168.3v-1.6M256.41 168.3v-1.6M262.2 168.3v-1.6M267.99 168.3v-1.6M273.78 168.3v-1.6M279.57 168.3v-1.6M285.36 168.3v-1.6M291.14 168.3v-1.6M296.93 168.3v-1.6M302.72 168.3v-1.6M308.51 168.3v-1.6M314.3 168.3v-1.6M320.09 168.3v-1.6M325.88 168.3v-1.6M331.67 168.3v-1.6M337.46 168.3v-1.6M343.24 168.3v-1.6M349.03 168.3v-1.6M354.82 168.3v-1.6M360.61 168.3v-1.6M366.4 168.3v-1.6" class="tk"/>
<text x="207.4" y="170" class="yt" style="font-size:4.2px">0</text>
<text x="207.4" y="161.42" class="yt" style="font-size:4.2px">1</text>
<text x="207.4" y="152.84" class="yt" style="font-size:4.2px">10</text>
<text x="207.4" y="144.26" class="yt" style="font-size:4.2px">100</text>
<text x="207.4" y="135.68" class="yt" style="font-size:4.2px">1,000</text>
<text x="207.4" y="127.1" class="yt" style="font-size:4.2px">10,000</text>
<text x="207.4" y="118.52" class="yt" style="font-size:4.2px">100,000</text>
<text transform="translate(214.29 171.2) rotate(-90)" class="xl">Nia</text>
<text transform="translate(220.08 171.2) rotate(-90)" class="xl">Mes</text>
<text transform="translate(225.87 171.2) rotate(-90)" class="xl">Nmm</text>
<text transform="translate(231.66 171.2) rotate(-90)" class="xl">Nic</text>
<text transform="translate(237.45 171.2) rotate(-90)" class="xl">Ind</text>
<text transform="translate(243.24 171.2) rotate(-90)" class="xl">Lys</text>
<text transform="translate(249.03 171.2) rotate(-90)" class="xl">Mev</text>
<text transform="translate(254.82 171.2) rotate(-90)" class="xl">Anm</text>
<text transform="translate(260.61 171.2) rotate(-90)" class="xl">Dip</text>
<text transform="translate(266.39 171.2) rotate(-90)" class="xl">Chl</text>
<text transform="translate(272.18 171.2) rotate(-90)" class="xl">Cnt</text>
<text transform="translate(277.97 171.2) rotate(-90)" class="xl">Sih</text>
<text transform="translate(283.76 171.2) rotate(-90)" class="xl">Hxam-nh</text>
<text transform="translate(289.55 171.2) rotate(-90)" class="xl">Chl-nh</text>
<text transform="translate(295.34 171.2) rotate(-90)" class="xl">N-nh</text>
<text transform="translate(301.13 171.2) rotate(-90)" class="xl">N,N-nh</text>
<text transform="translate(306.92 171.2) rotate(-90)" class="xl">Clthn</text>
<text transform="translate(312.71 171.2) rotate(-90)" class="xl">Clzn</text>
<text transform="translate(318.49 171.2) rotate(-90)" class="xl">Glc</text>
<text transform="translate(324.28 171.2) rotate(-90)" class="xl">Rep</text>
<text transform="translate(330.07 171.2) rotate(-90)" class="xl">Dan</text>
<text transform="translate(335.86 171.2) rotate(-90)" class="xl">Clothon</text>
<text transform="translate(341.65 171.2) rotate(-90)" class="xl">Cot</text>
<text transform="translate(347.44 171.2) rotate(-90)" class="xl">Flu</text>
<text transform="translate(353.23 171.2) rotate(-90)" class="xl">Spe</text>
<text transform="translate(359.02 171.2) rotate(-90)" class="xl">Abt</text>
<text transform="translate(364.81 171.2) rotate(-90)" class="xl">Nit</text>
<text transform="translate(192.8 149.6) rotate(-90)" class="yl">Content（ng/g）</text>
<text x="217.5" y="116.17" class="cn" style="font-size:4.5px">5.0 ng/mL</text>
<text x="314.2" y="115.39" class="sp" style="font-size:5.4px" textLength="40.8" lengthAdjust="spacingAndGlyphs">Buckwheat sprouts</text>
<rect x="259.1" y="188.6" width="2.6" height="2.6" fill="#2E7DD1"/>
<text x="263.3" y="191.3" class="lg">Root</text>
<rect x="273" y="188.6" width="2.6" height="2.6" fill="#E5524B"/>
<text x="277.2" y="191.3" class="lg">Stem</text>
<rect x="286.9" y="188.6" width="2.6" height="2.6" fill="#8CC34E"/>
<text x="291.1" y="191.3" class="lg">Leaf</text>
<text x="285.6" y="204.3" class="lt">(e)</text>
<line x1="212.6" y1="271.83" x2="364.7" y2="271.83" class="g"/>
<line x1="212.6" y1="263.16" x2="364.7" y2="263.16" class="g"/>
<line x1="212.6" y1="254.49" x2="364.7" y2="254.49" class="g"/>
<line x1="212.6" y1="245.82" x2="364.7" y2="245.82" class="g"/>
<line x1="212.6" y1="237.15" x2="364.7" y2="237.15" class="g"/>
<line x1="212.6" y1="228.48" x2="364.7" y2="228.48" class="g"/>
<rect x="213.69" y="259.7" width="1.15" height="20.8" fill="#2E7DD1"/>
<rect x="219.32" y="263.9" width="1.15" height="16.6" fill="#2E7DD1"/>
<rect x="220.47" y="270.2" width="1.15" height="10.3" fill="#E5524B"/>
<rect x="221.62" y="265" width="1.15" height="15.5" fill="#8CC34E"/>
<rect x="224.96" y="255" width="1.15" height="25.5" fill="#2E7DD1"/>
<rect x="226.11" y="265" width="1.15" height="15.5" fill="#E5524B"/>
<rect x="230.59" y="251.3" width="1.15" height="29.2" fill="#2E7DD1"/>
<rect x="231.74" y="264.2" width="1.15" height="16.3" fill="#E5524B"/>
<rect x="232.89" y="272.5" width="1.15" height="8" fill="#8CC34E"/>
<rect x="247.49" y="259.5" width="1.15" height="21" fill="#2E7DD1"/>
<rect x="253.12" y="245.5" width="1.15" height="35" fill="#2E7DD1"/>
<rect x="254.28" y="253.5" width="1.15" height="27" fill="#E5524B"/>
<rect x="258.76" y="244.5" width="1.15" height="36" fill="#2E7DD1"/>
<rect x="259.91" y="248" width="1.15" height="32.5" fill="#E5524B"/>
<rect x="261.06" y="267.5" width="1.15" height="13" fill="#8CC34E"/>
<rect x="264.39" y="249" width="1.15" height="31.5" fill="#2E7DD1"/>
<rect x="265.54" y="252.2" width="1.15" height="28.3" fill="#E5524B"/>
<rect x="266.69" y="264.5" width="1.15" height="16" fill="#8CC34E"/>
<rect x="270.03" y="248" width="1.15" height="32.5" fill="#2E7DD1"/>
<rect x="271.18" y="249.6" width="1.15" height="30.9" fill="#E5524B"/>
<rect x="272.32" y="259.2" width="1.15" height="21.3" fill="#8CC34E"/>
<rect x="275.66" y="239" width="1.15" height="41.5" fill="#2E7DD1"/>
<rect x="276.81" y="243.5" width="1.15" height="37" fill="#E5524B"/>
<rect x="277.96" y="262.6" width="1.15" height="17.9" fill="#8CC34E"/>
<rect x="281.29" y="247.6" width="1.15" height="32.9" fill="#2E7DD1"/>
<rect x="282.44" y="247.8" width="1.15" height="32.7" fill="#E5524B"/>
<rect x="283.59" y="245.2" width="1.15" height="35.3" fill="#8CC34E"/>
<rect x="286.93" y="240.8" width="1.15" height="39.7" fill="#2E7DD1"/>
<rect x="288.07" y="248.7" width="1.15" height="31.8" fill="#E5524B"/>
<rect x="289.22" y="252.2" width="1.15" height="28.3" fill="#8CC34E"/>
<rect x="292.56" y="238.2" width="1.15" height="42.3" fill="#2E7DD1"/>
<rect x="293.71" y="239.1" width="1.15" height="41.4" fill="#E5524B"/>
<rect x="294.86" y="264" width="1.15" height="16.5" fill="#8CC34E"/>
<rect x="298.19" y="236.5" width="1.15" height="44" fill="#2E7DD1"/>
<rect x="299.34" y="239.3" width="1.15" height="41.2" fill="#E5524B"/>
<rect x="303.82" y="251" width="1.15" height="29.5" fill="#2E7DD1"/>
<rect x="304.97" y="267" width="1.15" height="13.5" fill="#E5524B"/>
<rect x="306.12" y="261.7" width="1.15" height="18.8" fill="#8CC34E"/>
<rect x="309.46" y="252.6" width="1.15" height="27.9" fill="#2E7DD1"/>
<rect x="310.61" y="269" width="1.15" height="11.5" fill="#E5524B"/>
<rect x="311.76" y="270.2" width="1.15" height="10.3" fill="#8CC34E"/>
<rect x="315.09" y="270.2" width="1.15" height="10.3" fill="#2E7DD1"/>
<rect x="320.73" y="255.4" width="1.15" height="25.1" fill="#2E7DD1"/>
<rect x="321.88" y="268.1" width="1.15" height="12.4" fill="#E5524B"/>
<rect x="323.02" y="270" width="1.15" height="10.5" fill="#8CC34E"/>
<rect x="343.26" y="247.9" width="1.15" height="32.6" fill="#2E7DD1"/>
<rect x="344.41" y="260.7" width="1.15" height="19.8" fill="#E5524B"/>
<rect x="345.56" y="256.4" width="1.15" height="24.1" fill="#8CC34E"/>
<rect x="348.89" y="249" width="1.15" height="31.5" fill="#2E7DD1"/>
<rect x="350.04" y="259.6" width="1.15" height="20.9" fill="#E5524B"/>
<rect x="351.19" y="257.5" width="1.15" height="23" fill="#8CC34E"/>
<rect x="354.53" y="255.4" width="1.15" height="25.1" fill="#2E7DD1"/>
<rect x="355.68" y="270.2" width="1.15" height="10.3" fill="#E5524B"/>
<rect x="356.82" y="270.2" width="1.15" height="10.3" fill="#8CC34E"/>
<rect x="360.16" y="253.2" width="1.15" height="27.3" fill="#2E7DD1"/>
<rect x="361.31" y="265" width="1.15" height="15.5" fill="#E5524B"/>
<path d="M214.27 256.4V263M213.17 256.4h2.2M213.17 263h2.2M219.9 258.5V269.3M218.8 258.5h2.2M218.8 269.3h2.2M221.05 267V273.4M219.95 267h2.2M219.95 273.4h2.2M222.2 261V269M221.1 261h2.2M221.1 269h2.2M225.53 250.2V259.8M224.43 250.2h2.2M224.43 259.8h2.2M226.68 261V269M225.58 261h2.2M225.58 269h2.2M231.17 247.2V255.4M230.07 247.2h2.2M230.07 255.4h2.2M232.32 260.3V268.1M231.22 260.3h2.2M231.22 268.1h2.2M233.47 268V277M232.37 268h2.2M232.37 277h2.2M248.07 254.8V264.2M246.97 254.8h2.2M246.97 264.2h2.2M253.7 241.4V249.6M252.6 241.4h2.2M252.6 249.6h2.2M254.85 249V258M253.75 249h2.2M253.75 258h2.2M259.33 241.4V247.6M258.23 241.4h2.2M258.23 247.6h2.2M260.48 244.5V251.5M259.38 244.5h2.2M259.38 251.5h2.2M261.63 264V271M260.53 264h2.2M260.53 271h2.2M264.97 245.5V252.5M263.87 245.5h2.2M263.87 252.5h2.2M266.12 249V255.4M265.02 249h2.2M265.02 255.4h2.2M267.27 261V268M266.17 261h2.2M266.17 268h2.2M270.6 244.3V251.7M269.5 244.3h2.2M269.5 251.7h2.2M271.75 246V253.2M270.65 246h2.2M270.65 253.2h2.2M272.9 255V263.4M271.8 255h2.2M271.8 263.4h2.2M276.23 235.1V242.9M275.13 235.1h2.2M275.13 242.9h2.2M277.38 239.5V247.5M276.28 239.5h2.2M276.28 247.5h2.2M278.53 258V267.2M277.43 258h2.2M277.43 267.2h2.2M281.87 243.5V251.7M280.77 243.5h2.2M280.77 251.7h2.2M283.02 244.5V251.1M281.92 244.5h2.2M281.92 251.1h2.2M284.17 244V246.4M283.07 244h2.2M283.07 246.4h2.2M287.5 237.3V244.3M286.4 237.3h2.2M286.4 244.3h2.2M288.65 245V252.4M287.55 245h2.2M287.55 252.4h2.2M289.8 249V255.4M288.7 249h2.2M288.7 255.4h2.2M293.13 234.7V241.7M292.03 234.7h2.2M292.03 241.7h2.2M294.28 236V242.2M293.18 236h2.2M293.18 242.2h2.2M295.43 258V270M294.33 258h2.2M294.33 270h2.2M298.77 233.3V239.7M297.67 233.3h2.2M297.67 239.7h2.2M299.92 236V242.6M298.82 236h2.2M298.82 242.6h2.2M304.4 247.3V254.7M303.3 247.3h2.2M303.3 254.7h2.2M305.55 263V271M304.45 263h2.2M304.45 271h2.2M306.7 258V265.4M305.6 258h2.2M305.6 265.4h2.2M310.03 249.6V255.6M308.93 249.6h2.2M308.93 255.6h2.2M311.18 265V273M310.08 265h2.2M310.08 273h2.2M312.33 266V274.4M311.23 266h2.2M311.23 274.4h2.2M315.67 264.9V275.5M314.57 264.9h2.2M314.57 275.5h2.2M321.3 251.8V259M320.2 251.8h2.2M320.2 259h2.2M322.45 264V272.2M321.35 264h2.2M321.35 272.2h2.2M323.6 266V274M322.5 266h2.2M322.5 274h2.2M343.83 243.7V252.1M342.73 243.7h2.2M342.73 252.1h2.2M344.98 256V265.4M343.88 256h2.2M343.88 265.4h2.2M346.13 252V260.8M345.03 252h2.2M345.03 260.8h2.2M349.47 245.4V252.6M348.37 245.4h2.2M348.37 252.6h2.2M350.62 255V264.2M349.52 255h2.2M349.52 264.2h2.2M351.77 254V261M350.67 254h2.2M350.67 261h2.2M355.1 252.2V258.6M354 252.2h2.2M354 258.6h2.2M356.25 266V274.4M355.15 266h2.2M355.15 274.4h2.2M357.4 266V274.4M356.3 266h2.2M356.3 274.4h2.2M360.73 250.5V255.9M359.63 250.5h2.2M359.63 255.9h2.2M361.88 261.5V268.5M360.78 261.5h2.2M360.78 268.5h2.2" class="e"/>
<path d="M212.6 228.48V280.5H364.7" class="ax"/>
<path d="M211.8 280.5h2.2M211.8 271.83h2.2M211.8 263.16h2.2M211.8 254.49h2.2M211.8 245.82h2.2M211.8 237.15h2.2M211.8 228.48h2.2M218.23 280.5v-1.6M223.87 280.5v-1.6M229.5 280.5v-1.6M235.13 280.5v-1.6M240.77 280.5v-1.6M246.4 280.5v-1.6M252.03 280.5v-1.6M257.67 280.5v-1.6M263.3 280.5v-1.6M268.93 280.5v-1.6M274.57 280.5v-1.6M280.2 280.5v-1.6M285.83 280.5v-1.6M291.47 280.5v-1.6M297.1 280.5v-1.6M302.73 280.5v-1.6M308.37 280.5v-1.6M314 280.5v-1.6M319.63 280.5v-1.6M325.27 280.5v-1.6M330.9 280.5v-1.6M336.53 280.5v-1.6M342.17 280.5v-1.6M347.8 280.5v-1.6M353.43 280.5v-1.6M359.07 280.5v-1.6M364.7 280.5v-1.6" class="tk"/>
<text x="210" y="282.2" class="yt" style="font-size:3.5px">1</text>
<text x="210" y="273.53" class="yt" style="font-size:3.5px">10</text>
<text x="210" y="264.86" class="yt" style="font-size:3.5px">100</text>
<text x="210" y="256.19" class="yt" style="font-size:3.5px">1,000</text>
<text x="210" y="247.52" class="yt" style="font-size:3.5px">10,000</text>
<text x="210" y="238.85" class="yt" style="font-size:3.5px">100,000</text>
<text x="210" y="230.18" class="yt" style="font-size:3.5px">1,000,000</text>
<text transform="translate(216.72 283.4) rotate(-90)" class="xl">Nia</text>
<text transform="translate(222.35 283.4) rotate(-90)" class="xl">Mes</text>
<text transform="translate(227.98 283.4) rotate(-90)" class="xl">Nmm</text>
<text transform="translate(233.62 283.4) rotate(-90)" class="xl">Nic</text>
<text transform="translate(239.25 283.4) rotate(-90)" class="xl">Ind</text>
<text transform="translate(244.88 283.4) rotate(-90)" class="xl">Lys</text>
<text transform="translate(250.52 283.4) rotate(-90)" class="xl">Mev</text>
<text transform="translate(256.15 283.4) rotate(-90)" class="xl">Anm</text>
<text transform="translate(261.78 283.4) rotate(-90)" class="xl">Dip</text>
<text transform="translate(267.42 283.4) rotate(-90)" class="xl">Chl</text>
<text transform="translate(273.05 283.4) rotate(-90)" class="xl">Cnt</text>
<text transform="translate(278.68 283.4) rotate(-90)" class="xl">Sih</text>
<text transform="translate(284.32 283.4) rotate(-90)" class="xl">Hxam-nh</text>
<text transform="translate(289.95 283.4) rotate(-90)" class="xl">Chl-nh</text>
<text transform="translate(295.58 283.4) rotate(-90)" class="xl">N-nh</text>
<text transform="translate(301.22 283.4) rotate(-90)" class="xl">N,N-nh</text>
<text transform="translate(306.85 283.4) rotate(-90)" class="xl">Clthn</text>
<text transform="translate(312.48 283.4) rotate(-90)" class="xl">Clzn</text>
<text transform="translate(318.12 283.4) rotate(-90)" class="xl">Glc</text>
<text transform="translate(323.75 283.4) rotate(-90)" class="xl">Rep</text>
<text transform="translate(329.38 283.4) rotate(-90)" class="xl">Dan</text>
<text transform="translate(335.02 283.4) rotate(-90)" class="xl">Clothon</text>
<text transform="translate(340.65 283.4) rotate(-90)" class="xl">Cot</text>
<text transform="translate(346.28 283.4) rotate(-90)" class="xl">Flu</text>
<text transform="translate(351.92 283.4) rotate(-90)" class="xl">Spe</text>
<text transform="translate(357.55 283.4) rotate(-90)" class="xl">Abt</text>
<text transform="translate(363.18 283.4) rotate(-90)" class="xl">Nit</text>
<text transform="translate(195 257.6) rotate(-90)" class="yl">Content（ng/g）</text>
<text x="224.9" y="223.97" class="cn" style="font-size:4.2px">50.0 ng/mL</text>
<text x="318.7" y="224.79" class="sp" style="font-size:5.4px" textLength="40.3" lengthAdjust="spacingAndGlyphs">Buckwheat sprouts</text>
<rect x="268.7" y="300.6" width="2.6" height="2.6" fill="#2E7DD1"/>
<text x="272.9" y="303.3" class="lg">Root</text>
<rect x="282.3" y="300.6" width="2.6" height="2.6" fill="#E5524B"/>
<text x="286.5" y="303.3" class="lg">Stem</text>
<rect x="295.9" y="300.6" width="2.6" height="2.6" fill="#8CC34E"/>
<text x="300.1" y="303.3" class="lg">Leaf</text>
<text x="285.2" y="317.1" class="lt">(f)</text>
<line x1="391.5" y1="52.5" x2="544.7" y2="52.5" class="g"/>
<line x1="391.5" y1="41.9" x2="544.7" y2="41.9" class="g"/>
<line x1="391.5" y1="31.3" x2="544.7" y2="31.3" class="g"/>
<line x1="391.5" y1="20.7" x2="544.7" y2="20.7" class="g"/>
<line x1="391.5" y1="10.1" x2="544.7" y2="10.1" class="g"/>
<rect x="409.63" y="31.8" width="1.15" height="31.3" fill="#2E7DD1"/>
<rect x="410.78" y="41.4" width="1.15" height="21.7" fill="#E5524B"/>
<rect x="411.93" y="45.6" width="1.15" height="17.5" fill="#8CC34E"/>
<rect x="432.33" y="34.5" width="1.15" height="28.6" fill="#2E7DD1"/>
<rect x="433.48" y="32.7" width="1.15" height="30.4" fill="#E5524B"/>
<rect x="438" y="29.2" width="1.15" height="33.9" fill="#2E7DD1"/>
<rect x="439.15" y="32.7" width="1.15" height="30.4" fill="#E5524B"/>
<rect x="440.3" y="41" width="1.15" height="22.1" fill="#8CC34E"/>
<rect x="443.68" y="34.5" width="1.15" height="28.6" fill="#2E7DD1"/>
<rect x="444.83" y="33.8" width="1.15" height="29.3" fill="#E5524B"/>
<rect x="445.98" y="51.5" width="1.15" height="11.6" fill="#8CC34E"/>
<rect x="449.35" y="27.6" width="1.15" height="35.5" fill="#2E7DD1"/>
<rect x="450.5" y="27.6" width="1.15" height="35.5" fill="#E5524B"/>
<rect x="455.03" y="25" width="1.15" height="38.1" fill="#2E7DD1"/>
<rect x="456.18" y="29" width="1.15" height="34.1" fill="#E5524B"/>
<rect x="460.7" y="31.5" width="1.15" height="31.6" fill="#2E7DD1"/>
<rect x="461.85" y="33.5" width="1.15" height="29.6" fill="#E5524B"/>
<rect x="463" y="39.4" width="1.15" height="23.7" fill="#8CC34E"/>
<rect x="466.38" y="31.5" width="1.15" height="31.6" fill="#2E7DD1"/>
<rect x="467.53" y="34.5" width="1.15" height="28.6" fill="#E5524B"/>
<rect x="472.05" y="23" width="1.15" height="40.1" fill="#2E7DD1"/>
<rect x="473.2" y="31" width="1.15" height="32.1" fill="#E5524B"/>
<rect x="477.72" y="36" width="1.15" height="27.1" fill="#2E7DD1"/>
<rect x="478.87" y="36" width="1.15" height="27.1" fill="#E5524B"/>
<rect x="483.4" y="37.2" width="1.15" height="25.9" fill="#2E7DD1"/>
<rect x="484.55" y="43.3" width="1.15" height="19.8" fill="#E5524B"/>
<rect x="485.7" y="49.5" width="1.15" height="13.6" fill="#8CC34E"/>
<rect x="489.07" y="39.8" width="1.15" height="23.3" fill="#2E7DD1"/>
<rect x="500.42" y="46.7" width="1.15" height="16.4" fill="#2E7DD1"/>
<rect x="523.12" y="38.2" width="1.15" height="24.9" fill="#2E7DD1"/>
<rect x="528.79" y="38" width="1.15" height="25.1" fill="#2E7DD1"/>
<rect x="529.94" y="40" width="1.15" height="23.1" fill="#E5524B"/>
<rect x="534.46" y="41.4" width="1.15" height="21.7" fill="#2E7DD1"/>
<path d="M410.21 29.3V34.3M409.11 29.3h2.2M409.11 34.3h2.2M411.36 37V45.8M410.26 37h2.2M410.26 45.8h2.2M412.51 42V49.2M411.41 42h2.2M411.41 49.2h2.2M432.91 29.5V39.5M431.81 29.5h2.2M431.81 39.5h2.2M434.06 29.5V35.9M432.96 29.5h2.2M432.96 35.9h2.2M438.58 26.1V32.3M437.48 26.1h2.2M437.48 32.3h2.2M439.73 30V35.4M438.63 30h2.2M438.63 35.4h2.2M440.88 35.5V46.5M439.78 35.5h2.2M439.78 46.5h2.2M444.25 31.8V37.2M443.15 31.8h2.2M443.15 37.2h2.2M445.4 31V36.6M444.3 31h2.2M444.3 36.6h2.2M446.55 45V58M445.45 45h2.2M445.45 58h2.2M449.93 24.3V30.9M448.83 24.3h2.2M448.83 30.9h2.2M451.08 25V30.2M449.98 25h2.2M449.98 30.2h2.2M455.6 21.9V28.1M454.5 21.9h2.2M454.5 28.1h2.2M456.75 26V32M455.65 26h2.2M455.65 32h2.2M461.28 28.2V34.8M460.18 28.2h2.2M460.18 34.8h2.2M462.43 30V37M461.33 30h2.2M461.33 37h2.2M463.58 36V42.8M462.48 36h2.2M462.48 42.8h2.2M466.95 29V34M465.85 29h2.2M465.85 34h2.2M468.1 31V38M467 31h2.2M467 38h2.2M472.62 18.4V27.6M471.52 18.4h2.2M471.52 27.6h2.2M473.77 29V33M472.67 29h2.2M472.67 33h2.2M478.3 31.8V40.2M477.2 31.8h2.2M477.2 40.2h2.2M479.45 33V39M478.35 33h2.2M478.35 39h2.2M483.97 33.5V40.9M482.87 33.5h2.2M482.87 40.9h2.2M485.12 40V46.6M484.02 40h2.2M484.02 46.6h2.2M486.27 46V53M485.17 46h2.2M485.17 53h2.2M489.65 36.5V43.1M488.55 36.5h2.2M488.55 43.1h2.2M500.99 42.9V50.5M499.89 42.9h2.2M499.89 50.5h2.2M523.69 34.4V42M522.59 34.4h2.2M522.59 42h2.2M529.36 34.6V41.4M528.26 34.6h2.2M528.26 41.4h2.2M530.51 38.5V41.5M529.41 38.5h2.2M529.41 41.5h2.2M535.04 39.2V43.6M533.94 39.2h2.2M533.94 43.6h2.2" class="e"/>
<path d="M391.5 10.1V63.1H544.7" class="ax"/>
<path d="M390.7 63.1h2.2M390.7 52.5h2.2M390.7 41.9h2.2M390.7 31.3h2.2M390.7 20.7h2.2M390.7 10.1h2.2M397.17 63.1v-1.6M402.85 63.1v-1.6M408.52 63.1v-1.6M414.2 63.1v-1.6M419.87 63.1v-1.6M425.54 63.1v-1.6M431.22 63.1v-1.6M436.89 63.1v-1.6M442.57 63.1v-1.6M448.24 63.1v-1.6M453.91 63.1v-1.6M459.59 63.1v-1.6M465.26 63.1v-1.6M470.94 63.1v-1.6M476.61 63.1v-1.6M482.29 63.1v-1.6M487.96 63.1v-1.6M493.63 63.1v-1.6M499.31 63.1v-1.6M504.98 63.1v-1.6M510.66 63.1v-1.6M516.33 63.1v-1.6M522 63.1v-1.6M527.68 63.1v-1.6M533.35 63.1v-1.6M539.03 63.1v-1.6M544.7 63.1v-1.6" class="tk"/>
<text x="388.1" y="64.8" class="yt" style="font-size:4.0px">0</text>
<text x="388.1" y="54.2" class="yt" style="font-size:4.0px">1</text>
<text x="388.1" y="43.6" class="yt" style="font-size:4.0px">10</text>
<text x="388.1" y="33" class="yt" style="font-size:4.0px">100</text>
<text x="388.1" y="22.4" class="yt" style="font-size:4.0px">1,000</text>
<text x="388.1" y="11.8" class="yt" style="font-size:4.0px">10,000</text>
<text transform="translate(395.64 66) rotate(-90)" class="xl">Nia</text>
<text transform="translate(401.31 66) rotate(-90)" class="xl">Mes</text>
<text transform="translate(406.99 66) rotate(-90)" class="xl">Nmm</text>
<text transform="translate(412.66 66) rotate(-90)" class="xl">Nic</text>
<text transform="translate(418.33 66) rotate(-90)" class="xl">Ind</text>
<text transform="translate(424.01 66) rotate(-90)" class="xl">Lys</text>
<text transform="translate(429.68 66) rotate(-90)" class="xl">Mev</text>
<text transform="translate(435.36 66) rotate(-90)" class="xl">Anm</text>
<text transform="translate(441.03 66) rotate(-90)" class="xl">Dip</text>
<text transform="translate(446.7 66) rotate(-90)" class="xl">Chl</text>
<text transform="translate(452.38 66) rotate(-90)" class="xl">Cnt</text>
<text transform="translate(458.05 66) rotate(-90)" class="xl">Sih</text>
<text transform="translate(463.73 66) rotate(-90)" class="xl">Hxam-nh</text>
<text transform="translate(469.4 66) rotate(-90)" class="xl">Chl-nh</text>
<text transform="translate(475.07 66) rotate(-90)" class="xl">N-nh</text>
<text transform="translate(480.75 66) rotate(-90)" class="xl">N,N-nh</text>
<text transform="translate(486.42 66) rotate(-90)" class="xl">Clthn</text>
<text transform="translate(492.1 66) rotate(-90)" class="xl">Clzn</text>
<text transform="translate(497.77 66) rotate(-90)" class="xl">Glc</text>
<text transform="translate(503.44 66) rotate(-90)" class="xl">Rep</text>
<text transform="translate(509.12 66) rotate(-90)" class="xl">Dan</text>
<text transform="translate(514.79 66) rotate(-90)" class="xl">Clothon</text>
<text transform="translate(520.47 66) rotate(-90)" class="xl">Cot</text>
<text transform="translate(526.14 66) rotate(-90)" class="xl">Flu</text>
<text transform="translate(531.81 66) rotate(-90)" class="xl">Spe</text>
<text transform="translate(537.49 66) rotate(-90)" class="xl">Abt</text>
<text transform="translate(543.16 66) rotate(-90)" class="xl">Nit</text>
<text transform="translate(376 37.2) rotate(-90)" class="yl">Content（ng/g）</text>
<text x="394.7" y="6.65" class="cn" style="font-size:5.3px">0.5ng/mL</text>
<text x="514.4" y="7.94" class="sp" style="font-size:4.4px" textLength="22.9" lengthAdjust="spacingAndGlyphs">Okra sprouts</text>
<rect x="443.7" y="83.7" width="2.6" height="2.6" fill="#2E7DD1"/>
<text x="447.9" y="86.4" class="lg">Root</text>
<rect x="457.2" y="83.7" width="2.6" height="2.6" fill="#E5524B"/>
<text x="461.4" y="86.4" class="lg">Stem</text>
<rect x="470.7" y="83.7" width="2.6" height="2.6" fill="#8CC34E"/>
<text x="474.9" y="86.4" class="lg">Leaf</text>
<text x="460.9" y="102.9" class="lt">(g)</text>
<line x1="392.3" y1="156.84" x2="546.8" y2="156.84" class="g"/>
<line x1="392.3" y1="146.68" x2="546.8" y2="146.68" class="g"/>
<line x1="392.3" y1="136.52" x2="546.8" y2="136.52" class="g"/>
<line x1="392.3" y1="126.36" x2="546.8" y2="126.36" class="g"/>
<line x1="392.3" y1="116.2" x2="546.8" y2="116.2" class="g"/>
<rect x="404.88" y="135.3" width="1.15" height="31.7" fill="#2E7DD1"/>
<rect x="406.03" y="144.4" width="1.15" height="22.6" fill="#E5524B"/>
<rect x="410.6" y="132.3" width="1.15" height="34.7" fill="#2E7DD1"/>
<rect x="411.75" y="143" width="1.15" height="24" fill="#E5524B"/>
<rect x="412.9" y="144.4" width="1.15" height="22.6" fill="#8CC34E"/>
<rect x="433.49" y="134.1" width="1.15" height="32.9" fill="#2E7DD1"/>
<rect x="434.64" y="134.1" width="1.15" height="32.9" fill="#E5524B"/>
<rect x="435.79" y="145.7" width="1.15" height="21.3" fill="#8CC34E"/>
<rect x="439.21" y="131.5" width="1.15" height="35.5" fill="#2E7DD1"/>
<rect x="440.36" y="134.8" width="1.15" height="32.2" fill="#E5524B"/>
<rect x="441.51" y="135.8" width="1.15" height="31.2" fill="#8CC34E"/>
<rect x="444.94" y="136" width="1.15" height="31" fill="#2E7DD1"/>
<rect x="446.09" y="136" width="1.15" height="31" fill="#E5524B"/>
<rect x="447.24" y="140.9" width="1.15" height="26.1" fill="#8CC34E"/>
<rect x="450.66" y="125.4" width="1.15" height="41.6" fill="#2E7DD1"/>
<rect x="451.81" y="126.4" width="1.15" height="40.6" fill="#E5524B"/>
<rect x="452.96" y="142.8" width="1.15" height="24.2" fill="#8CC34E"/>
<rect x="456.38" y="123.5" width="1.15" height="43.5" fill="#2E7DD1"/>
<rect x="457.53" y="126.2" width="1.15" height="40.8" fill="#E5524B"/>
<rect x="458.68" y="137.5" width="1.15" height="29.5" fill="#8CC34E"/>
<rect x="462.1" y="130.5" width="1.15" height="36.5" fill="#2E7DD1"/>
<rect x="463.25" y="133" width="1.15" height="34" fill="#E5524B"/>
<rect x="464.4" y="134" width="1.15" height="33" fill="#8CC34E"/>
<rect x="467.82" y="129.3" width="1.15" height="37.7" fill="#2E7DD1"/>
<rect x="468.97" y="130.3" width="1.15" height="36.7" fill="#E5524B"/>
<rect x="470.12" y="142.8" width="1.15" height="24.2" fill="#8CC34E"/>
<rect x="473.55" y="122" width="1.15" height="45" fill="#2E7DD1"/>
<rect x="474.7" y="125.2" width="1.15" height="41.8" fill="#E5524B"/>
<rect x="475.85" y="133" width="1.15" height="34" fill="#8CC34E"/>
<rect x="479.27" y="128.3" width="1.15" height="38.7" fill="#2E7DD1"/>
<rect x="480.42" y="128.3" width="1.15" height="38.7" fill="#E5524B"/>
<rect x="481.57" y="140.9" width="1.15" height="26.1" fill="#8CC34E"/>
<rect x="484.99" y="129.8" width="1.15" height="37.2" fill="#2E7DD1"/>
<rect x="486.14" y="145" width="1.15" height="22" fill="#E5524B"/>
<rect x="487.29" y="146" width="1.15" height="21" fill="#8CC34E"/>
<rect x="490.71" y="132.3" width="1.15" height="34.7" fill="#2E7DD1"/>
<rect x="491.86" y="149.5" width="1.15" height="17.5" fill="#E5524B"/>
<rect x="493.01" y="149.5" width="1.15" height="17.5" fill="#8CC34E"/>
<rect x="502.16" y="144.4" width="1.15" height="22.6" fill="#2E7DD1"/>
<rect x="503.31" y="156.6" width="1.15" height="10.4" fill="#E5524B"/>
<rect x="504.46" y="144.4" width="1.15" height="22.6" fill="#8CC34E"/>
<rect x="525.05" y="133" width="1.15" height="34" fill="#2E7DD1"/>
<rect x="526.2" y="144.4" width="1.15" height="22.6" fill="#E5524B"/>
<rect x="527.35" y="141.5" width="1.15" height="25.5" fill="#8CC34E"/>
<rect x="530.77" y="141.4" width="1.15" height="25.6" fill="#2E7DD1"/>
<rect x="531.92" y="146.4" width="1.15" height="20.6" fill="#E5524B"/>
<rect x="536.49" y="135.3" width="1.15" height="31.7" fill="#2E7DD1"/>
<rect x="537.64" y="155" width="1.15" height="12" fill="#E5524B"/>
<rect x="538.79" y="157" width="1.15" height="10" fill="#8CC34E"/>
<rect x="542.21" y="130.3" width="1.15" height="36.7" fill="#2E7DD1"/>
<rect x="543.36" y="144.4" width="1.15" height="22.6" fill="#E5524B"/>
<path d="M405.46 130.9V139.7M404.36 130.9h2.2M404.36 139.7h2.2M406.61 141V147.8M405.51 141h2.2M405.51 147.8h2.2M411.18 126.2V138.4M410.08 126.2h2.2M410.08 138.4h2.2M412.33 140V146M411.23 140h2.2M411.23 146h2.2M413.48 141V147.8M412.38 141h2.2M412.38 147.8h2.2M434.07 132.2V136M432.97 132.2h2.2M432.97 136h2.2M435.22 131V137.2M434.12 131h2.2M434.12 137.2h2.2M436.37 142V149.4M435.27 142h2.2M435.27 149.4h2.2M439.79 127V136M438.69 127h2.2M438.69 136h2.2M440.94 132V137.6M439.84 132h2.2M439.84 137.6h2.2M442.09 133V138.6M440.99 133h2.2M440.99 138.6h2.2M445.51 132.2V139.8M444.41 132.2h2.2M444.41 139.8h2.2M446.66 132V140M445.56 132h2.2M445.56 140h2.2M447.81 137V144.8M446.71 137h2.2M446.71 144.8h2.2M451.23 121.6V129.2M450.13 121.6h2.2M450.13 129.2h2.2M452.38 123V129.8M451.28 123h2.2M451.28 129.8h2.2M453.53 139V146.6M452.43 139h2.2M452.43 146.6h2.2M456.96 120V127M455.86 120h2.2M455.86 127h2.2M458.11 123V129.4M457.01 123h2.2M457.01 129.4h2.2M459.26 134V141M458.16 134h2.2M458.16 141h2.2M462.68 128.5V132.5M461.58 128.5h2.2M461.58 132.5h2.2M463.83 130.5V135.5M462.73 130.5h2.2M462.73 135.5h2.2M464.98 131.5V136.5M463.88 131.5h2.2M463.88 136.5h2.2M468.4 125.4V133.2M467.3 125.4h2.2M467.3 133.2h2.2M469.55 127V133.6M468.45 127h2.2M468.45 133.6h2.2M470.7 139V146.6M469.6 139h2.2M469.6 146.6h2.2M474.12 118.6V125.4M473.02 118.6h2.2M473.02 125.4h2.2M475.27 122V128.4M474.17 122h2.2M474.17 128.4h2.2M476.42 130V136M475.32 130h2.2M475.32 136h2.2M479.84 125.4V131.2M478.74 125.4h2.2M478.74 131.2h2.2M480.99 125V131.6M479.89 125h2.2M479.89 131.6h2.2M482.14 137V144.8M481.04 137h2.2M481.04 144.8h2.2M485.57 126.2V133.4M484.47 126.2h2.2M484.47 133.4h2.2M486.72 142V148M485.62 142h2.2M485.62 148h2.2M487.87 143V149M486.77 143h2.2M486.77 149h2.2M491.29 128.2V136.4M490.19 128.2h2.2M490.19 136.4h2.2M492.44 146V153M491.34 146h2.2M491.34 153h2.2M493.59 146V153M492.49 146h2.2M492.49 153h2.2M502.73 139.4V149.4M501.63 139.4h2.2M501.63 149.4h2.2M503.88 152V161.2M502.78 152h2.2M502.78 161.2h2.2M505.03 143.8V145M503.93 143.8h2.2M503.93 145h2.2M525.62 129.3V136.7M524.52 129.3h2.2M524.52 136.7h2.2M526.77 141.6V147.2M525.67 141.6h2.2M525.67 147.2h2.2M527.92 139.5V143.5M526.82 139.5h2.2M526.82 143.5h2.2M531.34 137.8V145M530.24 137.8h2.2M530.24 145h2.2M532.49 143V149.8M531.39 143h2.2M531.39 149.8h2.2M537.07 133.5V137.1M535.97 133.5h2.2M535.97 137.1h2.2M538.22 152.3V157.7M537.12 152.3h2.2M537.12 157.7h2.2M539.37 154V160M538.27 154h2.2M538.27 160h2.2M542.79 127.2V133.4M541.69 127.2h2.2M541.69 133.4h2.2M543.94 141V147.8M542.84 141h2.2M542.84 147.8h2.2" class="e"/>
<path d="M392.3 116.2V167H546.8" class="ax"/>
<path d="M391.5 167h2.2M391.5 156.84h2.2M391.5 146.68h2.2M391.5 136.52h2.2M391.5 126.36h2.2M391.5 116.2h2.2M398.02 167v-1.6M403.74 167v-1.6M409.47 167v-1.6M415.19 167v-1.6M420.91 167v-1.6M426.63 167v-1.6M432.36 167v-1.6M438.08 167v-1.6M443.8 167v-1.6M449.52 167v-1.6M455.24 167v-1.6M460.97 167v-1.6M466.69 167v-1.6M472.41 167v-1.6M478.13 167v-1.6M483.86 167v-1.6M489.58 167v-1.6M495.3 167v-1.6M501.02 167v-1.6M506.74 167v-1.6M512.47 167v-1.6M518.19 167v-1.6M523.91 167v-1.6M529.63 167v-1.6M535.36 167v-1.6M541.08 167v-1.6M546.8 167v-1.6" class="tk"/>
<text x="388.9" y="168.7" class="yt" style="font-size:4.0px">0</text>
<text x="388.9" y="158.54" class="yt" style="font-size:4.0px">1</text>
<text x="388.9" y="148.38" class="yt" style="font-size:4.0px">10</text>
<text x="388.9" y="138.22" class="yt" style="font-size:4.0px">100</text>
<text x="388.9" y="128.06" class="yt" style="font-size:4.0px">1,000</text>
<text x="388.9" y="117.9" class="yt" style="font-size:4.0px">10,000</text>
<text transform="translate(396.46 169.9) rotate(-90)" class="xl">Nia</text>
<text transform="translate(402.18 169.9) rotate(-90)" class="xl">Mes</text>
<text transform="translate(407.91 169.9) rotate(-90)" class="xl">Nmm</text>
<text transform="translate(413.63 169.9) rotate(-90)" class="xl">Nic</text>
<text transform="translate(419.35 169.9) rotate(-90)" class="xl">Ind</text>
<text transform="translate(425.07 169.9) rotate(-90)" class="xl">Lys</text>
<text transform="translate(430.79 169.9) rotate(-90)" class="xl">Mev</text>
<text transform="translate(436.52 169.9) rotate(-90)" class="xl">Anm</text>
<text transform="translate(442.24 169.9) rotate(-90)" class="xl">Dip</text>
<text transform="translate(447.96 169.9) rotate(-90)" class="xl">Chl</text>
<text transform="translate(453.68 169.9) rotate(-90)" class="xl">Cnt</text>
<text transform="translate(459.41 169.9) rotate(-90)" class="xl">Sih</text>
<text transform="translate(465.13 169.9) rotate(-90)" class="xl">Hxam-nh</text>
<text transform="translate(470.85 169.9) rotate(-90)" class="xl">Chl-nh</text>
<text transform="translate(476.57 169.9) rotate(-90)" class="xl">N-nh</text>
<text transform="translate(482.29 169.9) rotate(-90)" class="xl">N,N-nh</text>
<text transform="translate(488.02 169.9) rotate(-90)" class="xl">Clthn</text>
<text transform="translate(493.74 169.9) rotate(-90)" class="xl">Clzn</text>
<text transform="translate(499.46 169.9) rotate(-90)" class="xl">Glc</text>
<text transform="translate(505.18 169.9) rotate(-90)" class="xl">Rep</text>
<text transform="translate(510.91 169.9) rotate(-90)" class="xl">Dan</text>
<text transform="translate(516.63 169.9) rotate(-90)" class="xl">Clothon</text>
<text transform="translate(522.35 169.9) rotate(-90)" class="xl">Cot</text>
<text transform="translate(528.07 169.9) rotate(-90)" class="xl">Flu</text>
<text transform="translate(533.79 169.9) rotate(-90)" class="xl">Spe</text>
<text transform="translate(539.52 169.9) rotate(-90)" class="xl">Abt</text>
<text transform="translate(545.24 169.9) rotate(-90)" class="xl">Nit</text>
<text transform="translate(375.5 142.6) rotate(-90)" class="yl">Content（ng/g）</text>
<text x="395" y="114.75" class="cn" style="font-size:5.0px">5.0 ng/mL</text>
<text x="518.4" y="114.64" class="sp" style="font-size:4.4px" textLength="21.9" lengthAdjust="spacingAndGlyphs">Okra sprouts</text>
<rect x="441.9" y="186.1" width="2.6" height="2.6" fill="#2E7DD1"/>
<text x="446.1" y="188.8" class="lg">Root</text>
<rect x="455.3" y="186.1" width="2.6" height="2.6" fill="#E5524B"/>
<text x="459.5" y="188.8" class="lg">Stem</text>
<rect x="468.7" y="186.1" width="2.6" height="2.6" fill="#8CC34E"/>
<text x="472.9" y="188.8" class="lg">Leaf</text>
<text x="460.8" y="204.7" class="lt">(h)</text>
<line x1="390.9" y1="268.54" x2="545.3" y2="268.54" class="g"/>
<line x1="390.9" y1="257.28" x2="545.3" y2="257.28" class="g"/>
<line x1="390.9" y1="246.02" x2="545.3" y2="246.02" class="g"/>
<line x1="390.9" y1="234.76" x2="545.3" y2="234.76" class="g"/>
<line x1="390.9" y1="223.5" x2="545.3" y2="223.5" class="g"/>
<rect x="397.75" y="258" width="1.15" height="21.8" fill="#2E7DD1"/>
<rect x="403.47" y="244.6" width="1.15" height="35.2" fill="#2E7DD1"/>
<rect x="404.62" y="260.5" width="1.15" height="19.3" fill="#E5524B"/>
<rect x="409.19" y="243.7" width="1.15" height="36.1" fill="#2E7DD1"/>
<rect x="410.34" y="258.5" width="1.15" height="21.3" fill="#E5524B"/>
<rect x="411.49" y="253.2" width="1.15" height="26.6" fill="#8CC34E"/>
<rect x="426.35" y="257" width="1.15" height="22.8" fill="#2E7DD1"/>
<rect x="432.06" y="245.5" width="1.15" height="34.3" fill="#2E7DD1"/>
<rect x="433.21" y="244.5" width="1.15" height="35.3" fill="#E5524B"/>
<rect x="434.36" y="261" width="1.15" height="18.8" fill="#8CC34E"/>
<rect x="437.78" y="238" width="1.15" height="41.8" fill="#2E7DD1"/>
<rect x="438.93" y="241.9" width="1.15" height="37.9" fill="#E5524B"/>
<rect x="440.08" y="249.9" width="1.15" height="29.9" fill="#8CC34E"/>
<rect x="443.5" y="245.5" width="1.15" height="34.3" fill="#2E7DD1"/>
<rect x="444.65" y="248.2" width="1.15" height="31.6" fill="#E5524B"/>
<rect x="445.8" y="263.5" width="1.15" height="16.3" fill="#8CC34E"/>
<rect x="449.22" y="236.5" width="1.15" height="43.3" fill="#2E7DD1"/>
<rect x="450.37" y="239" width="1.15" height="40.8" fill="#E5524B"/>
<rect x="451.52" y="253" width="1.15" height="26.8" fill="#8CC34E"/>
<rect x="454.94" y="234" width="1.15" height="45.8" fill="#2E7DD1"/>
<rect x="456.09" y="237" width="1.15" height="42.8" fill="#E5524B"/>
<rect x="457.24" y="254" width="1.15" height="25.8" fill="#8CC34E"/>
<rect x="460.66" y="244.2" width="1.15" height="35.6" fill="#2E7DD1"/>
<rect x="461.81" y="246.2" width="1.15" height="33.6" fill="#E5524B"/>
<rect x="462.96" y="258.2" width="1.15" height="21.6" fill="#8CC34E"/>
<rect x="466.38" y="238.2" width="1.15" height="41.6" fill="#2E7DD1"/>
<rect x="467.52" y="240.8" width="1.15" height="39" fill="#E5524B"/>
<rect x="468.67" y="264.5" width="1.15" height="15.3" fill="#8CC34E"/>
<rect x="472.09" y="231.2" width="1.15" height="48.6" fill="#2E7DD1"/>
<rect x="473.24" y="234.1" width="1.15" height="45.7" fill="#E5524B"/>
<rect x="474.39" y="253.8" width="1.15" height="26" fill="#8CC34E"/>
<rect x="477.81" y="239.8" width="1.15" height="40" fill="#2E7DD1"/>
<rect x="478.96" y="241.4" width="1.15" height="38.4" fill="#E5524B"/>
<rect x="480.11" y="265.5" width="1.15" height="14.3" fill="#8CC34E"/>
<rect x="483.53" y="243.6" width="1.15" height="36.2" fill="#2E7DD1"/>
<rect x="484.68" y="256" width="1.15" height="23.8" fill="#E5524B"/>
<rect x="485.83" y="266.5" width="1.15" height="13.3" fill="#8CC34E"/>
<rect x="489.25" y="246.9" width="1.15" height="32.9" fill="#2E7DD1"/>
<rect x="490.4" y="262.8" width="1.15" height="17" fill="#E5524B"/>
<rect x="491.55" y="263.9" width="1.15" height="15.9" fill="#8CC34E"/>
<rect x="500.69" y="254.3" width="1.15" height="25.5" fill="#2E7DD1"/>
<rect x="501.84" y="271.3" width="1.15" height="8.5" fill="#E5524B"/>
<rect x="502.99" y="263.9" width="1.15" height="15.9" fill="#8CC34E"/>
<rect x="523.56" y="241.6" width="1.15" height="38.2" fill="#2E7DD1"/>
<rect x="524.71" y="254.3" width="1.15" height="25.5" fill="#E5524B"/>
<rect x="525.86" y="251.1" width="1.15" height="28.7" fill="#8CC34E"/>
<rect x="529.28" y="247.9" width="1.15" height="31.9" fill="#2E7DD1"/>
<rect x="530.43" y="254.3" width="1.15" height="25.5" fill="#E5524B"/>
<rect x="531.58" y="256" width="1.15" height="23.8" fill="#8CC34E"/>
<rect x="535" y="250.5" width="1.15" height="29.3" fill="#2E7DD1"/>
<rect x="536.15" y="270.6" width="1.15" height="9.2" fill="#E5524B"/>
<rect x="537.3" y="270.6" width="1.15" height="9.2" fill="#8CC34E"/>
<rect x="540.72" y="241.6" width="1.15" height="38.2" fill="#2E7DD1"/>
<rect x="541.87" y="259.6" width="1.15" height="20.2" fill="#E5524B"/>
<path d="M398.33 255.4V260.6M397.23 255.4h2.2M397.23 260.6h2.2M404.05 240.9V248.3M402.95 240.9h2.2M402.95 248.3h2.2M405.2 257V264M404.1 257h2.2M404.1 264h2.2M409.76 239.9V247.5M408.66 239.9h2.2M408.66 247.5h2.2M410.91 255V262M409.81 255h2.2M409.81 262h2.2M412.06 252V254.4M410.96 252h2.2M410.96 254.4h2.2M426.92 254V260M425.82 254h2.2M425.82 260h2.2M432.64 240V251M431.54 240h2.2M431.54 251h2.2M433.79 241.5V247.5M432.69 241.5h2.2M432.69 247.5h2.2M434.94 255.7V266.3M433.84 255.7h2.2M433.84 266.3h2.2M438.36 234.4V241.6M437.26 234.4h2.2M437.26 241.6h2.2M439.51 238V245.8M438.41 238h2.2M438.41 245.8h2.2M440.66 246V253.8M439.56 246h2.2M439.56 253.8h2.2M444.08 242.6V248.4M442.98 242.6h2.2M442.98 248.4h2.2M445.23 245V251.4M444.13 245h2.2M444.13 251.4h2.2M446.38 259V268M445.28 259h2.2M445.28 268h2.2M449.79 232.4V240.6M448.69 232.4h2.2M448.69 240.6h2.2M450.94 235.5V242.5M449.84 235.5h2.2M449.84 242.5h2.2M452.09 249V257M450.99 249h2.2M450.99 257h2.2M455.51 230.5V237.5M454.41 230.5h2.2M454.41 237.5h2.2M456.66 233.5V240.5M455.56 233.5h2.2M455.56 240.5h2.2M457.81 250V258M456.71 250h2.2M456.71 258h2.2M461.23 239.8V248.6M460.13 239.8h2.2M460.13 248.6h2.2M462.38 242V250.4M461.28 242h2.2M461.28 250.4h2.2M463.53 254V262.4M462.43 254h2.2M462.43 262.4h2.2M466.95 235.5V240.9M465.85 235.5h2.2M465.85 240.9h2.2M468.1 237.5V244.1M467 237.5h2.2M467 244.1h2.2M469.25 260V269M468.15 260h2.2M468.15 269h2.2M472.67 227.6V234.8M471.57 227.6h2.2M471.57 234.8h2.2M473.82 231V237.2M472.72 231h2.2M472.72 237.2h2.2M474.97 248.2V259.4M473.87 248.2h2.2M473.87 259.4h2.2M478.39 235.5V244.1M477.29 235.5h2.2M477.29 244.1h2.2M479.54 238V244.8M478.44 238h2.2M478.44 244.8h2.2M480.69 260.3V270.7M479.59 260.3h2.2M479.59 270.7h2.2M484.11 240.7V246.5M483.01 240.7h2.2M483.01 246.5h2.2M485.26 252.5V259.5M484.16 252.5h2.2M484.16 259.5h2.2M486.41 262V271M485.31 262h2.2M485.31 271h2.2M489.82 244.1V249.7M488.72 244.1h2.2M488.72 249.7h2.2M490.97 259V266.6M489.87 259h2.2M489.87 266.6h2.2M492.12 260V267.8M491.02 260h2.2M491.02 267.8h2.2M501.26 252.2V256.4M500.16 252.2h2.2M500.16 256.4h2.2M502.41 268V274.6M501.31 268h2.2M501.31 274.6h2.2M503.56 258V269.8M502.46 258h2.2M502.46 269.8h2.2M524.14 240V243.2M523.04 240h2.2M523.04 243.2h2.2M525.29 250V258.6M524.19 250h2.2M524.19 258.6h2.2M526.44 248V254.2M525.34 248h2.2M525.34 254.2h2.2M529.85 245.4V250.4M528.75 245.4h2.2M528.75 250.4h2.2M531 251V257.6M529.9 251h2.2M529.9 257.6h2.2M532.15 252V260M531.05 252h2.2M531.05 260h2.2M535.57 247.6V253.4M534.47 247.6h2.2M534.47 253.4h2.2M536.72 269V272.2M535.62 269h2.2M535.62 272.2h2.2M537.87 269V272.2M536.77 269h2.2M536.77 272.2h2.2M541.29 239.9V243.3M540.19 239.9h2.2M540.19 243.3h2.2M542.44 256V263.2M541.34 256h2.2M541.34 263.2h2.2" class="e"/>
<path d="M390.9 223.5V279.8H545.3" class="ax"/>
<path d="M390.1 279.8h2.2M390.1 268.54h2.2M390.1 257.28h2.2M390.1 246.02h2.2M390.1 234.76h2.2M390.1 223.5h2.2M396.62 279.8v-1.6M402.34 279.8v-1.6M408.06 279.8v-1.6M413.77 279.8v-1.6M419.49 279.8v-1.6M425.21 279.8v-1.6M430.93 279.8v-1.6M436.65 279.8v-1.6M442.37 279.8v-1.6M448.09 279.8v-1.6M453.8 279.8v-1.6M459.52 279.8v-1.6M465.24 279.8v-1.6M470.96 279.8v-1.6M476.68 279.8v-1.6M482.4 279.8v-1.6M488.11 279.8v-1.6M493.83 279.8v-1.6M499.55 279.8v-1.6M505.27 279.8v-1.6M510.99 279.8v-1.6M516.71 279.8v-1.6M522.43 279.8v-1.6M528.14 279.8v-1.6M533.86 279.8v-1.6M539.58 279.8v-1.6M545.3 279.8v-1.6" class="tk"/>
<text x="387.5" y="281.5" class="yt" style="font-size:4.0px">1</text>
<text x="387.5" y="270.24" class="yt" style="font-size:4.0px">10</text>
<text x="387.5" y="258.98" class="yt" style="font-size:4.0px">100</text>
<text x="387.5" y="247.72" class="yt" style="font-size:4.0px">1,000</text>
<text x="387.5" y="236.46" class="yt" style="font-size:4.0px">10,000</text>
<text x="387.5" y="225.2" class="yt" style="font-size:4.0px">100,000</text>
<text transform="translate(395.06 282.7) rotate(-90)" class="xl">Nia</text>
<text transform="translate(400.78 282.7) rotate(-90)" class="xl">Mes</text>
<text transform="translate(406.5 282.7) rotate(-90)" class="xl">Nmm</text>
<text transform="translate(412.21 282.7) rotate(-90)" class="xl">Nic</text>
<text transform="translate(417.93 282.7) rotate(-90)" class="xl">Ind</text>
<text transform="translate(423.65 282.7) rotate(-90)" class="xl">Lys</text>
<text transform="translate(429.37 282.7) rotate(-90)" class="xl">Mev</text>
<text transform="translate(435.09 282.7) rotate(-90)" class="xl">Anm</text>
<text transform="translate(440.81 282.7) rotate(-90)" class="xl">Dip</text>
<text transform="translate(446.53 282.7) rotate(-90)" class="xl">Chl</text>
<text transform="translate(452.24 282.7) rotate(-90)" class="xl">Cnt</text>
<text transform="translate(457.96 282.7) rotate(-90)" class="xl">Sih</text>
<text transform="translate(463.68 282.7) rotate(-90)" class="xl">Hxam-nh</text>
<text transform="translate(469.4 282.7) rotate(-90)" class="xl">Chl-nh</text>
<text transform="translate(475.12 282.7) rotate(-90)" class="xl">N-nh</text>
<text transform="translate(480.84 282.7) rotate(-90)" class="xl">N,N-nh</text>
<text transform="translate(486.56 282.7) rotate(-90)" class="xl">Clthn</text>
<text transform="translate(492.27 282.7) rotate(-90)" class="xl">Clzn</text>
<text transform="translate(497.99 282.7) rotate(-90)" class="xl">Glc</text>
<text transform="translate(503.71 282.7) rotate(-90)" class="xl">Rep</text>
<text transform="translate(509.43 282.7) rotate(-90)" class="xl">Dan</text>
<text transform="translate(515.15 282.7) rotate(-90)" class="xl">Clothon</text>
<text transform="translate(520.87 282.7) rotate(-90)" class="xl">Cot</text>
<text transform="translate(526.59 282.7) rotate(-90)" class="xl">Flu</text>
<text transform="translate(532.3 282.7) rotate(-90)" class="xl">Spe</text>
<text transform="translate(538.02 282.7) rotate(-90)" class="xl">Abt</text>
<text transform="translate(543.74 282.7) rotate(-90)" class="xl">Nit</text>
<text transform="translate(375 252.9) rotate(-90)" class="yl">Content（ng/g）</text>
<text x="401" y="222.66" class="cn" style="font-size:5.3px">50.0ng/mL</text>
<text x="515" y="222.94" class="sp" style="font-size:4.4px" textLength="22.3" lengthAdjust="spacingAndGlyphs">Okra sprouts</text>
<rect x="446.5" y="300.3" width="2.6" height="2.6" fill="#2E7DD1"/>
<text x="450.7" y="303" class="lg">Root</text>
<rect x="460.1" y="300.3" width="2.6" height="2.6" fill="#E5524B"/>
<text x="464.3" y="303" class="lg">Stem</text>
<rect x="473.7" y="300.3" width="2.6" height="2.6" fill="#8CC34E"/>
<text x="477.9" y="303" class="lg">Leaf</text>
<text x="460" y="317.3" class="lt">(i)</text>
</svg>
</body></html>
